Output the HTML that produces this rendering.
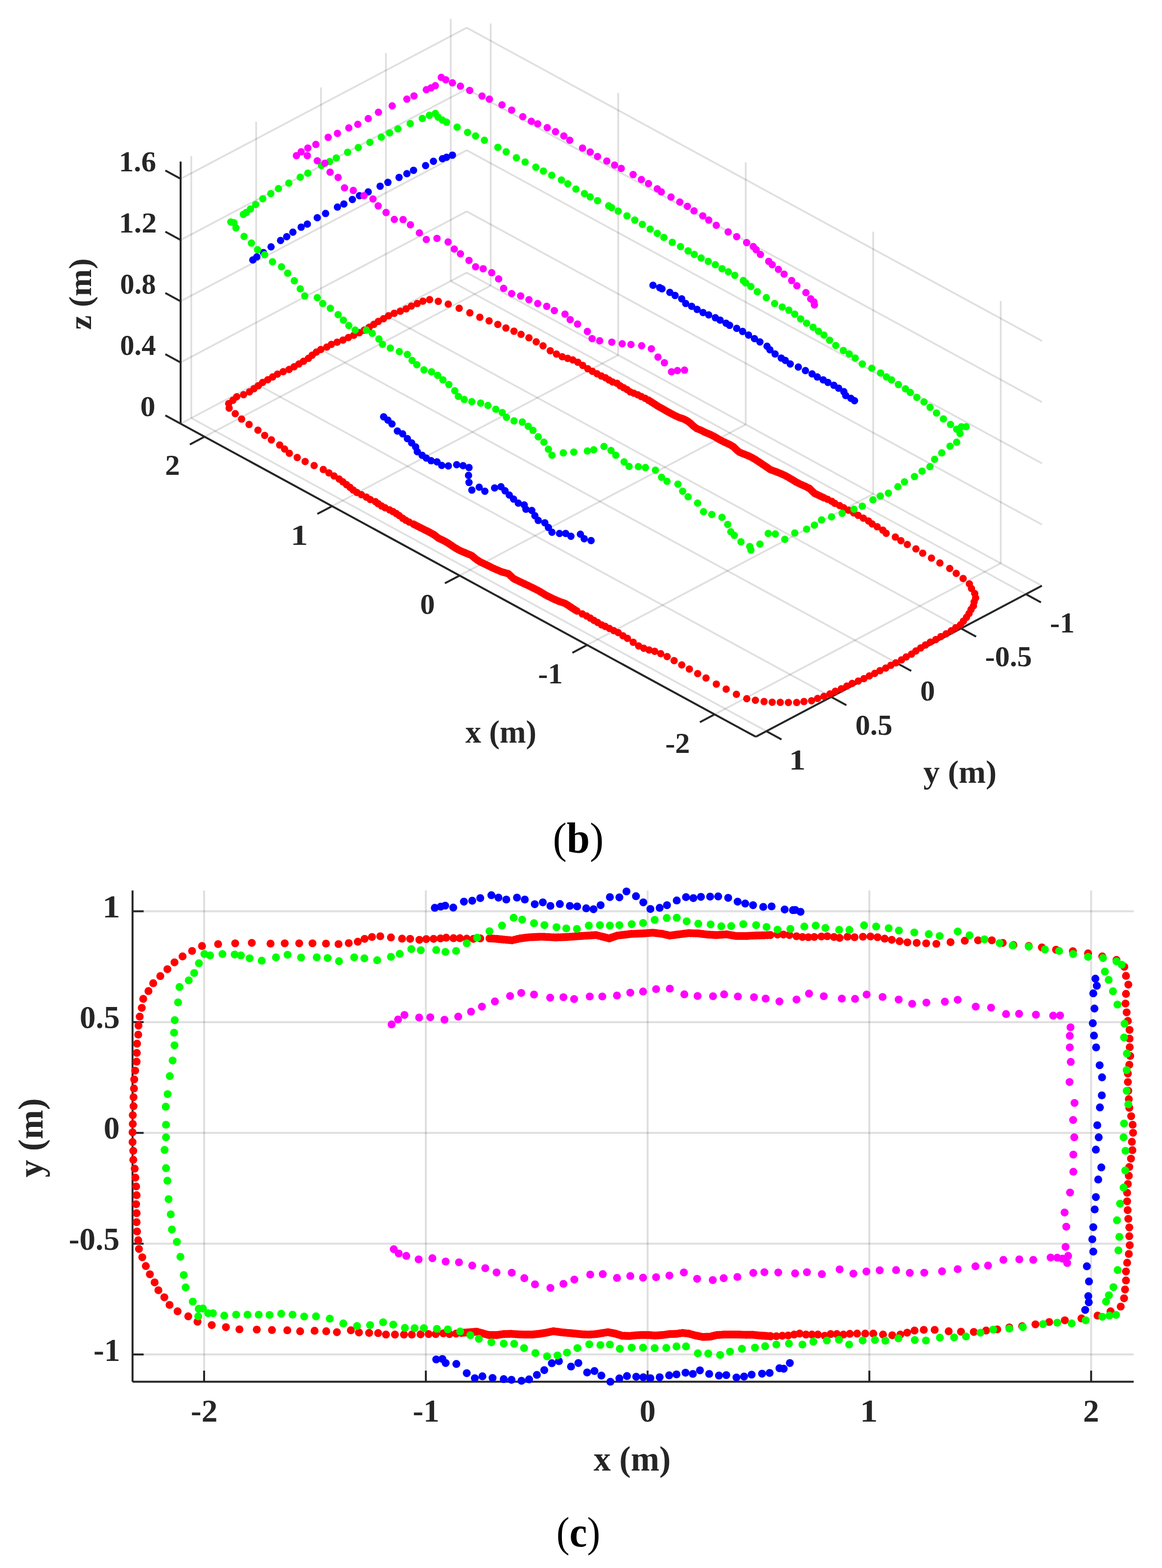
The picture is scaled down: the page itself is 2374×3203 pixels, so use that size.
<!DOCTYPE html>
<html><head><meta charset="utf-8"><title>figure</title>
<style>html,body{margin:0;padding:0;background:#fff;overflow:hidden;width:2374px;height:3203px;}svg{display:block;}</style>
</head><body>
<svg width="2374" height="3203" viewBox="0 0 2374 3203">
<rect width="2374" height="3203" fill="#ffffff"/>
<g stroke="#262626" stroke-width="3.6" fill="none" stroke-opacity="0.15">
<line x1="2044.5" y1="1150.7" x2="1460" y2="1459.3"/>
<line x1="1784" y1="1008.9" x2="1199.5" y2="1317.5"/>
<line x1="1523.5" y1="867.1" x2="939" y2="1175.7"/>
<line x1="1263" y1="725.3" x2="678.5" y2="1033.9"/>
<line x1="1002.5" y1="583.5" x2="418" y2="892.1"/>
<line x1="2096" y1="1213.8" x2="920.9" y2="574.1"/>
<line x1="1963.5" y1="1283.7" x2="788.4" y2="644.1"/>
<line x1="1830.9" y1="1353.7" x2="655.8" y2="714"/>
<line x1="1698.4" y1="1423.7" x2="523.3" y2="784"/>
<line x1="1565.9" y1="1493.7" x2="390.8" y2="854"/>
<line x1="920.9" y1="574.1" x2="920.9" y2="38.5"/>
<line x1="788.4" y1="644.1" x2="788.4" y2="108.5"/>
<line x1="655.8" y1="714" x2="655.8" y2="178.4"/>
<line x1="523.3" y1="784" x2="523.3" y2="248.4"/>
<line x1="390.8" y1="854" x2="390.8" y2="318.4"/>
<line x1="953.5" y1="556.9" x2="369" y2="865.5"/>
<line x1="953.5" y1="431.8" x2="369" y2="740.4"/>
<line x1="953.5" y1="306.8" x2="369" y2="615.4"/>
<line x1="953.5" y1="181.8" x2="369" y2="490.3"/>
<line x1="953.5" y1="56.7" x2="369" y2="365.3"/>
<line x1="2044.5" y1="1150.7" x2="2044.5" y2="615.1"/>
<line x1="1784" y1="1008.9" x2="1784" y2="473.3"/>
<line x1="1523.5" y1="867.1" x2="1523.5" y2="331.5"/>
<line x1="1263" y1="725.3" x2="1263" y2="189.7"/>
<line x1="1002.5" y1="583.5" x2="1002.5" y2="47.9"/>
<line x1="2128.6" y1="1196.5" x2="953.5" y2="556.9"/>
<line x1="2128.6" y1="1071.5" x2="953.5" y2="431.8"/>
<line x1="2128.6" y1="946.5" x2="953.5" y2="306.8"/>
<line x1="2128.6" y1="821.4" x2="953.5" y2="181.8"/>
<line x1="2128.6" y1="696.4" x2="953.5" y2="56.7"/>
</g>
<g stroke="#262626" stroke-width="4.0" fill="none" stroke-opacity="0.15">
<line x1="417" y1="2822.5" x2="417" y2="1819"/>
<line x1="870" y1="2822.5" x2="870" y2="1819"/>
<line x1="1323.1" y1="2822.5" x2="1323.1" y2="1819"/>
<line x1="1776.1" y1="2822.5" x2="1776.1" y2="1819"/>
<line x1="2229.2" y1="2822.5" x2="2229.2" y2="1819"/>
<line x1="271.1" y1="2766.8" x2="2316.2" y2="2766.8"/>
<line x1="271.1" y1="2540.5" x2="2316.2" y2="2540.5"/>
<line x1="271.1" y1="2314.2" x2="2316.2" y2="2314.2"/>
<line x1="271.1" y1="2087.9" x2="2316.2" y2="2087.9"/>
<line x1="271.1" y1="1861.5" x2="2316.2" y2="1861.5"/>
</g>
<g stroke="#262626" stroke-width="4.0" fill="none">
<line x1="369" y1="865.5" x2="369" y2="329.9"/>
<line x1="1544.2" y1="1505.1" x2="369" y2="865.5"/>
<line x1="2128.6" y1="1196.5" x2="1544.2" y2="1505.1"/>
<line x1="1460" y1="1459.3" x2="1429.9" y2="1475.2"/>
<line x1="1199.5" y1="1317.5" x2="1169.4" y2="1333.4"/>
<line x1="939" y1="1175.7" x2="908.9" y2="1191.6"/>
<line x1="678.5" y1="1033.9" x2="648.4" y2="1049.8"/>
<line x1="418" y1="892.1" x2="387.9" y2="908"/>
<line x1="2096" y1="1213.8" x2="2126.7" y2="1230.5"/>
<line x1="1963.5" y1="1283.7" x2="1994.2" y2="1300.5"/>
<line x1="1830.9" y1="1353.7" x2="1861.7" y2="1370.4"/>
<line x1="1698.4" y1="1423.7" x2="1729.2" y2="1440.4"/>
<line x1="1565.9" y1="1493.7" x2="1596.6" y2="1510.4"/>
<line x1="369" y1="865.5" x2="337.8" y2="848.5"/>
<line x1="369" y1="740.4" x2="337.8" y2="723.4"/>
<line x1="369" y1="615.4" x2="337.8" y2="598.4"/>
<line x1="369" y1="490.3" x2="337.8" y2="473.3"/>
<line x1="369" y1="365.3" x2="337.8" y2="348.3"/>
</g>
<g stroke="#262626" stroke-width="4.0" fill="none">
<line x1="270.8" y1="2822.5" x2="270.8" y2="1819"/>
<line x1="270.8" y1="2822.5" x2="2316.2" y2="2822.5"/>
<line x1="270.8" y1="2766.8" x2="293.5" y2="2766.8"/>
<line x1="270.8" y1="2540.5" x2="293.5" y2="2540.5"/>
<line x1="270.8" y1="2314.2" x2="293.5" y2="2314.2"/>
<line x1="270.8" y1="2087.9" x2="293.5" y2="2087.9"/>
<line x1="270.8" y1="1861.5" x2="293.5" y2="1861.5"/>
<line x1="417" y1="2822.5" x2="417" y2="2799.8"/>
<line x1="870" y1="2822.5" x2="870" y2="2799.8"/>
<line x1="1323.1" y1="2822.5" x2="1323.1" y2="2799.8"/>
<line x1="1776.1" y1="2822.5" x2="1776.1" y2="2799.8"/>
<line x1="2229.2" y1="2822.5" x2="2229.2" y2="2799.8"/>
</g>
<g fill="#ff0000">
<circle cx="1830.1" cy="1354" r="7.5"/>
<circle cx="1819.9" cy="1359.1" r="7.5"/>
<circle cx="1809.5" cy="1364.7" r="7.5"/>
<circle cx="1797.8" cy="1369.9" r="7.5"/>
<circle cx="1787.1" cy="1375.6" r="7.5"/>
<circle cx="1776" cy="1380.8" r="7.5"/>
<circle cx="1765" cy="1386.3" r="7.5"/>
<circle cx="1753.4" cy="1391.3" r="7.5"/>
<circle cx="1740.9" cy="1396.1" r="7.5"/>
<circle cx="1730.1" cy="1401.5" r="7.5"/>
<circle cx="1718.8" cy="1407.1" r="7.5"/>
<circle cx="1706.6" cy="1412.1" r="7.5"/>
<circle cx="1695.6" cy="1417.6" r="7.5"/>
<circle cx="1683.4" cy="1422.5" r="7.5"/>
<circle cx="1670.4" cy="1426.7" r="7.5"/>
<circle cx="1658" cy="1431.5" r="7.5"/>
<circle cx="1642.5" cy="1433.1" r="7.5"/>
<circle cx="1627.6" cy="1435" r="7.5"/>
<circle cx="1610.7" cy="1435" r="7.5"/>
<circle cx="1594.1" cy="1434.8" r="7.5"/>
<circle cx="1577.6" cy="1434.5" r="7.5"/>
<circle cx="1561" cy="1433.1" r="7.5"/>
<circle cx="1543.3" cy="1430.5" r="7.5"/>
<circle cx="1525.7" cy="1427.3" r="7.5"/>
<circle cx="1504.5" cy="1418.2" r="7.5"/>
<circle cx="1483.6" cy="1407.7" r="7.5"/>
<circle cx="1463.5" cy="1397.4" r="7.5"/>
<circle cx="1442.4" cy="1385" r="7.5"/>
<circle cx="1425.4" cy="1376" r="7.5"/>
<circle cx="1408.4" cy="1366.8" r="7.5"/>
<circle cx="1392.8" cy="1358.3" r="7.5"/>
<circle cx="1377.2" cy="1349.5" r="7.5"/>
<circle cx="1363" cy="1341.2" r="7.5"/>
<circle cx="1349.9" cy="1335.3" r="7.5"/>
<circle cx="1337.6" cy="1330.4" r="7.5"/>
<circle cx="1326.2" cy="1327.8" r="7.5"/>
<circle cx="1315.3" cy="1324.3" r="7.5"/>
<circle cx="1304.7" cy="1319.5" r="7.5"/>
<circle cx="1293.6" cy="1311.9" r="7.5"/>
<circle cx="1281.9" cy="1304" r="7.5"/>
<circle cx="1272.7" cy="1298.7" r="7.5"/>
<circle cx="1263" cy="1292.2" r="7.5"/>
<circle cx="1254.1" cy="1288.3" r="7.5"/>
<circle cx="1245.1" cy="1283.7" r="7.5"/>
<circle cx="1236.5" cy="1279.6" r="7.5"/>
<circle cx="1229" cy="1276.4" r="7.5"/>
<circle cx="1220.9" cy="1271.4" r="7.5"/>
<circle cx="1213.4" cy="1267.3" r="7.5"/>
<circle cx="1205.9" cy="1262.6" r="7.5"/>
<circle cx="1198.4" cy="1258.2" r="7.5"/>
<circle cx="1189.7" cy="1254.1" r="7.5"/>
<circle cx="844.9" cy="1070.7" r="7.5"/>
<circle cx="836" cy="1066.5" r="7.5"/>
<circle cx="829" cy="1062.7" r="7.5"/>
<circle cx="822.6" cy="1058.6" r="7.5"/>
<circle cx="815.7" cy="1053.3" r="7.5"/>
<circle cx="809.6" cy="1049.1" r="7.5"/>
<circle cx="802.9" cy="1045.1" r="7.5"/>
<circle cx="795.7" cy="1041.5" r="7.5"/>
<circle cx="786.7" cy="1037.2" r="7.5"/>
<circle cx="779.5" cy="1033.6" r="7.5"/>
<circle cx="772.6" cy="1028.9" r="7.5"/>
<circle cx="767" cy="1024.7" r="7.5"/>
<circle cx="756.4" cy="1020.4" r="7.5"/>
<circle cx="748.6" cy="1015.6" r="7.5"/>
<circle cx="738.3" cy="1010.6" r="7.5"/>
<circle cx="729.1" cy="1005.9" r="7.5"/>
<circle cx="721.6" cy="1000.9" r="7.5"/>
<circle cx="715" cy="995.4" r="7.5"/>
<circle cx="708" cy="990.1" r="7.5"/>
<circle cx="700.5" cy="984.2" r="7.5"/>
<circle cx="692.8" cy="978.5" r="7.5"/>
<circle cx="682.5" cy="972.3" r="7.5"/>
<circle cx="671.9" cy="965.9" r="7.5"/>
<circle cx="660.5" cy="959.1" r="7.5"/>
<circle cx="641.8" cy="951" r="7.5"/>
<circle cx="623.4" cy="942.8" r="7.5"/>
<circle cx="607.2" cy="934.6" r="7.5"/>
<circle cx="591.1" cy="925.9" r="7.5"/>
<circle cx="581.4" cy="917.2" r="7.5"/>
<circle cx="571.4" cy="909.1" r="7.5"/>
<circle cx="554.4" cy="898.6" r="7.5"/>
<circle cx="540.8" cy="889.4" r="7.5"/>
<circle cx="527" cy="878.8" r="7.5"/>
<circle cx="508.9" cy="867.1" r="7.5"/>
<circle cx="493.6" cy="856.1" r="7.5"/>
<circle cx="480.6" cy="845" r="7.5"/>
<circle cx="468.2" cy="833.7" r="7.5"/>
<circle cx="467.2" cy="824.4" r="7.5"/>
<circle cx="476" cy="817.6" r="7.5"/>
<circle cx="483.7" cy="810.5" r="7.5"/>
<circle cx="497.6" cy="806.2" r="7.5"/>
<circle cx="509.7" cy="800.4" r="7.5"/>
<circle cx="518.8" cy="794.1" r="7.5"/>
<circle cx="527.7" cy="787.9" r="7.5"/>
<circle cx="536.5" cy="781.2" r="7.5"/>
<circle cx="547" cy="775.7" r="7.5"/>
<circle cx="556.9" cy="770.1" r="7.5"/>
<circle cx="566.8" cy="764.3" r="7.5"/>
<circle cx="578.5" cy="759.3" r="7.5"/>
<circle cx="590.6" cy="754.7" r="7.5"/>
<circle cx="600.8" cy="749.3" r="7.5"/>
<circle cx="610.8" cy="743.5" r="7.5"/>
<circle cx="620.1" cy="737.9" r="7.5"/>
<circle cx="630.1" cy="732.1" r="7.5"/>
<circle cx="637.8" cy="725.6" r="7.5"/>
<circle cx="646.3" cy="719.3" r="7.5"/>
<circle cx="655.4" cy="713.9" r="7.5"/>
<circle cx="667.6" cy="709" r="7.5"/>
<circle cx="677" cy="703.4" r="7.5"/>
<circle cx="688.8" cy="699" r="7.5"/>
<circle cx="700.7" cy="694.8" r="7.5"/>
<circle cx="711.8" cy="689.5" r="7.5"/>
<circle cx="722.8" cy="684.9" r="7.5"/>
<circle cx="734.1" cy="679.8" r="7.5"/>
<circle cx="744.3" cy="674.4" r="7.5"/>
<circle cx="754.3" cy="668.6" r="7.5"/>
<circle cx="763.9" cy="662.6" r="7.5"/>
<circle cx="773" cy="656.6" r="7.5"/>
<circle cx="783.5" cy="651.1" r="7.5"/>
<circle cx="793.7" cy="645.1" r="7.5"/>
<circle cx="805.3" cy="640.1" r="7.5"/>
<circle cx="817.8" cy="635.7" r="7.5"/>
<circle cx="829.7" cy="630.9" r="7.5"/>
<circle cx="840.4" cy="625.2" r="7.5"/>
<circle cx="852.3" cy="620.1" r="7.5"/>
<circle cx="863.9" cy="615.2" r="7.5"/>
<circle cx="877.7" cy="612.1" r="7.5"/>
<circle cx="895.4" cy="615.6" r="7.5"/>
<circle cx="915.8" cy="621.2" r="7.5"/>
<circle cx="938.1" cy="629.7" r="7.5"/>
<circle cx="959.9" cy="639.1" r="7.5"/>
<circle cx="980.3" cy="648.1" r="7.5"/>
<circle cx="999.3" cy="655.4" r="7.5"/>
<circle cx="1017.1" cy="662.7" r="7.5"/>
<circle cx="1033.6" cy="670.1" r="7.5"/>
<circle cx="1050" cy="676.6" r="7.5"/>
<circle cx="1064.5" cy="683" r="7.5"/>
<circle cx="1080.7" cy="690" r="7.5"/>
<circle cx="1095.5" cy="698.3" r="7.5"/>
<circle cx="1109.4" cy="706.5" r="7.5"/>
<circle cx="1124.1" cy="716.4" r="7.5"/>
<circle cx="1136.9" cy="723.3" r="7.5"/>
<circle cx="1148.6" cy="728.8" r="7.5"/>
<circle cx="1159.8" cy="732.1" r="7.5"/>
<circle cx="1170.2" cy="735.3" r="7.5"/>
<circle cx="1180.5" cy="740" r="7.5"/>
<circle cx="1190.5" cy="746.4" r="7.5"/>
<circle cx="1200.8" cy="753.2" r="7.5"/>
<circle cx="1210.2" cy="758.4" r="7.5"/>
<circle cx="1219.7" cy="763.5" r="7.5"/>
<circle cx="1228.6" cy="768.1" r="7.5"/>
<circle cx="1237" cy="771.7" r="7.5"/>
<circle cx="1244.2" cy="776.3" r="7.5"/>
<circle cx="1251.5" cy="780.2" r="7.5"/>
<circle cx="1260.4" cy="782.9" r="7.5"/>
<circle cx="1267.1" cy="788.1" r="7.5"/>
<circle cx="1274" cy="791.9" r="7.5"/>
<circle cx="1281" cy="795.7" r="7.5"/>
<circle cx="1287.4" cy="800.4" r="7.5"/>
<circle cx="1294.9" cy="803.2" r="7.5"/>
<circle cx="1303" cy="806.4" r="7.5"/>
<circle cx="1310.2" cy="810.1" r="7.5"/>
<circle cx="1317.8" cy="813.6" r="7.5"/>
<circle cx="1325" cy="817.2" r="7.5"/>
<circle cx="1841.8" cy="1347.9" r="7.5"/>
<circle cx="1851.5" cy="1341.9" r="7.5"/>
<circle cx="1862.2" cy="1336.2" r="7.5"/>
<circle cx="1871.1" cy="1329.7" r="7.5"/>
<circle cx="1881" cy="1323.6" r="7.5"/>
<circle cx="1890.7" cy="1317.6" r="7.5"/>
<circle cx="1900.6" cy="1311.7" r="7.5"/>
<circle cx="1911.9" cy="1306.4" r="7.5"/>
<circle cx="1922.2" cy="1300.4" r="7.5"/>
<circle cx="1932.9" cy="1294.7" r="7.5"/>
<circle cx="1943.4" cy="1288.5" r="7.5"/>
<circle cx="1952.5" cy="1282.2" r="7.5"/>
<circle cx="1962.2" cy="1276.2" r="7.5"/>
<circle cx="1968.2" cy="1268.9" r="7.5"/>
<circle cx="1974.5" cy="1261.1" r="7.5"/>
<circle cx="1979.7" cy="1253.3" r="7.5"/>
<circle cx="1983.8" cy="1245.1" r="7.5"/>
<circle cx="1988.7" cy="1237.8" r="7.5"/>
<circle cx="1990.2" cy="1229.5" r="7.5"/>
<circle cx="1993.2" cy="1221.4" r="7.5"/>
<circle cx="1991.4" cy="1212.2" r="7.5"/>
<circle cx="1984.8" cy="1202.2" r="7.5"/>
<circle cx="1980.5" cy="1192.8" r="7.5"/>
<circle cx="1967.7" cy="1181.7" r="7.5"/>
<circle cx="1953.6" cy="1171.2" r="7.5"/>
<circle cx="1940.3" cy="1161.2" r="7.5"/>
<circle cx="1920.2" cy="1150" r="7.5"/>
<circle cx="1903" cy="1140" r="7.5"/>
<circle cx="1885.1" cy="1130" r="7.5"/>
<circle cx="1871.2" cy="1121.2" r="7.5"/>
<circle cx="1853.7" cy="1112.3" r="7.5"/>
<circle cx="1840.6" cy="1104.5" r="7.5"/>
<circle cx="1829.2" cy="1097.1" r="7.5"/>
<circle cx="1810.5" cy="1089.4" r="7.5"/>
<circle cx="1803.6" cy="1082.9" r="7.5"/>
<circle cx="1792.2" cy="1076.1" r="7.5"/>
<circle cx="1781.9" cy="1070.2" r="7.5"/>
<circle cx="1774.4" cy="1064.3" r="7.5"/>
<circle cx="1763.8" cy="1058.5" r="7.5"/>
<circle cx="1753.2" cy="1052.7" r="7.5"/>
<circle cx="1744.1" cy="1047.7" r="7.5"/>
<circle cx="1733.5" cy="1042.3" r="7.5"/>
<circle cx="1723.7" cy="1037.3" r="7.5"/>
<circle cx="1715.4" cy="1032.7" r="7.5"/>
<circle cx="1705.6" cy="1028.3" r="7.5"/>
<circle cx="1699.2" cy="1023.9" r="7.5"/>
<circle cx="1690.9" cy="1020" r="7.5"/>
<circle cx="1178.9" cy="1248.3" r="7.5"/>
<circle cx="1176.3" cy="1246.7" r="7.5"/>
<circle cx="1173.7" cy="1245" r="7.5"/>
<circle cx="1171.1" cy="1243.4" r="7.5"/>
<circle cx="1168.6" cy="1241.8" r="7.5"/>
<circle cx="1166.1" cy="1240.1" r="7.5"/>
<circle cx="1163.6" cy="1238.4" r="7.5"/>
<circle cx="1160.7" cy="1236.5" r="7.5"/>
<circle cx="1157.7" cy="1234.6" r="7.5"/>
<circle cx="1154.7" cy="1232.7" r="7.5"/>
<circle cx="1150.7" cy="1231.3" r="7.5"/>
<circle cx="1146.7" cy="1229.9" r="7.5"/>
<circle cx="1142.7" cy="1228.6" r="7.5"/>
<circle cx="1139.6" cy="1227.2" r="7.5"/>
<circle cx="1136.5" cy="1225.9" r="7.5"/>
<circle cx="1133.3" cy="1224.6" r="7.5"/>
<circle cx="1130.2" cy="1223.3" r="7.5"/>
<circle cx="1127.3" cy="1221.8" r="7.5"/>
<circle cx="1124.4" cy="1220.3" r="7.5"/>
<circle cx="1121.5" cy="1218.9" r="7.5"/>
<circle cx="1118.6" cy="1217.4" r="7.5"/>
<circle cx="1115.7" cy="1216" r="7.5"/>
<circle cx="1113" cy="1214.4" r="7.5"/>
<circle cx="1110.4" cy="1212.8" r="7.5"/>
<circle cx="1107.8" cy="1211.2" r="7.5"/>
<circle cx="1105.1" cy="1209.6" r="7.5"/>
<circle cx="1102.5" cy="1208" r="7.5"/>
<circle cx="1099.8" cy="1206.4" r="7.5"/>
<circle cx="1096.9" cy="1205" r="7.5"/>
<circle cx="1094" cy="1203.5" r="7.5"/>
<circle cx="1091.1" cy="1202.1" r="7.5"/>
<circle cx="1088.2" cy="1200.6" r="7.5"/>
<circle cx="1085.3" cy="1199.2" r="7.5"/>
<circle cx="1082.4" cy="1197.7" r="7.5"/>
<circle cx="1079.4" cy="1196.3" r="7.5"/>
<circle cx="1076.4" cy="1194.9" r="7.5"/>
<circle cx="1073.4" cy="1193.5" r="7.5"/>
<circle cx="1070.4" cy="1192.1" r="7.5"/>
<circle cx="1067.4" cy="1190.7" r="7.5"/>
<circle cx="1064.4" cy="1189.3" r="7.5"/>
<circle cx="1061.5" cy="1187.9" r="7.5"/>
<circle cx="1058.5" cy="1186.4" r="7.5"/>
<circle cx="1055.6" cy="1185" r="7.5"/>
<circle cx="1052.6" cy="1183.6" r="7.5"/>
<circle cx="1049.7" cy="1182.2" r="7.5"/>
<circle cx="1047.4" cy="1180.1" r="7.5"/>
<circle cx="1045.1" cy="1178" r="7.5"/>
<circle cx="1042.8" cy="1175.9" r="7.5"/>
<circle cx="1040.6" cy="1173.8" r="7.5"/>
<circle cx="1038.3" cy="1171.7" r="7.5"/>
<circle cx="1035" cy="1170.9" r="7.5"/>
<circle cx="1031.7" cy="1170" r="7.5"/>
<circle cx="1028.4" cy="1169.1" r="7.5"/>
<circle cx="1025.2" cy="1168.2" r="7.5"/>
<circle cx="1022" cy="1166.9" r="7.5"/>
<circle cx="1018.9" cy="1165.5" r="7.5"/>
<circle cx="1015.8" cy="1164.2" r="7.5"/>
<circle cx="1012.7" cy="1162.9" r="7.5"/>
<circle cx="1009.6" cy="1161.5" r="7.5"/>
<circle cx="1006.5" cy="1160.2" r="7.5"/>
<circle cx="1003.6" cy="1158.7" r="7.5"/>
<circle cx="1000.7" cy="1157.3" r="7.5"/>
<circle cx="997.8" cy="1155.8" r="7.5"/>
<circle cx="994.9" cy="1154.4" r="7.5"/>
<circle cx="992" cy="1152.9" r="7.5"/>
<circle cx="989" cy="1151.5" r="7.5"/>
<circle cx="986" cy="1150.1" r="7.5"/>
<circle cx="983" cy="1148.7" r="7.5"/>
<circle cx="980" cy="1147.3" r="7.5"/>
<circle cx="977.6" cy="1145.6" r="7.5"/>
<circle cx="975.1" cy="1143.9" r="7.5"/>
<circle cx="972.7" cy="1142.2" r="7.5"/>
<circle cx="970.3" cy="1140.5" r="7.5"/>
<circle cx="968.2" cy="1138.6" r="7.5"/>
<circle cx="966" cy="1136.7" r="7.5"/>
<circle cx="963.9" cy="1134.9" r="7.5"/>
<circle cx="960.8" cy="1133.5" r="7.5"/>
<circle cx="957.6" cy="1132.2" r="7.5"/>
<circle cx="954.5" cy="1130.9" r="7.5"/>
<circle cx="951.3" cy="1129.6" r="7.5"/>
<circle cx="948.2" cy="1128.2" r="7.5"/>
<circle cx="945.1" cy="1126.9" r="7.5"/>
<circle cx="941.9" cy="1125.6" r="7.5"/>
<circle cx="938.8" cy="1124.2" r="7.5"/>
<circle cx="936.1" cy="1122.7" r="7.5"/>
<circle cx="933.4" cy="1121.1" r="7.5"/>
<circle cx="930.7" cy="1119.6" r="7.5"/>
<circle cx="927.9" cy="1118" r="7.5"/>
<circle cx="925.5" cy="1116.3" r="7.5"/>
<circle cx="923.1" cy="1114.6" r="7.5"/>
<circle cx="920.6" cy="1112.9" r="7.5"/>
<circle cx="918.2" cy="1111.2" r="7.5"/>
<circle cx="915.6" cy="1109.6" r="7.5"/>
<circle cx="912.9" cy="1108" r="7.5"/>
<circle cx="910.3" cy="1106.5" r="7.5"/>
<circle cx="907.6" cy="1104.9" r="7.5"/>
<circle cx="904.7" cy="1103.5" r="7.5"/>
<circle cx="901.7" cy="1102.1" r="7.5"/>
<circle cx="898.7" cy="1100.7" r="7.5"/>
<circle cx="895.7" cy="1099.2" r="7.5"/>
<circle cx="893.4" cy="1097.5" r="7.5"/>
<circle cx="891.1" cy="1095.7" r="7.5"/>
<circle cx="888.8" cy="1093.9" r="7.5"/>
<circle cx="886.5" cy="1092.1" r="7.5"/>
<circle cx="883.7" cy="1090.6" r="7.5"/>
<circle cx="880.9" cy="1089.1" r="7.5"/>
<circle cx="878.2" cy="1087.6" r="7.5"/>
<circle cx="875.4" cy="1086.1" r="7.5"/>
<circle cx="872.4" cy="1084.6" r="7.5"/>
<circle cx="869.5" cy="1083.2" r="7.5"/>
<circle cx="866.6" cy="1081.8" r="7.5"/>
<circle cx="863.7" cy="1080.3" r="7.5"/>
<circle cx="860.8" cy="1078.8" r="7.5"/>
<circle cx="858" cy="1077.4" r="7.5"/>
<circle cx="855.1" cy="1075.9" r="7.5"/>
<circle cx="852.2" cy="1074.4" r="7.5"/>
<circle cx="848.6" cy="1072.6" r="7.5"/>
<circle cx="845" cy="1070.8" r="7.5"/>
<circle cx="1653.4" cy="997.8" r="7.5"/>
<circle cx="1650.6" cy="996.2" r="7.5"/>
<circle cx="1647.8" cy="994.7" r="7.5"/>
<circle cx="1645" cy="993.2" r="7.5"/>
<circle cx="1641.8" cy="991.9" r="7.5"/>
<circle cx="1638.7" cy="990.6" r="7.5"/>
<circle cx="1635.5" cy="989.3" r="7.5"/>
<circle cx="1632.6" cy="987.8" r="7.5"/>
<circle cx="1629.8" cy="986.3" r="7.5"/>
<circle cx="1626.9" cy="984.9" r="7.5"/>
<circle cx="1624.3" cy="983.3" r="7.5"/>
<circle cx="1621.7" cy="981.6" r="7.5"/>
<circle cx="1619.1" cy="980" r="7.5"/>
<circle cx="1616.4" cy="978.5" r="7.5"/>
<circle cx="1613.7" cy="976.9" r="7.5"/>
<circle cx="1611" cy="975.3" r="7.5"/>
<circle cx="1608.2" cy="973.8" r="7.5"/>
<circle cx="1605.5" cy="972.3" r="7.5"/>
<circle cx="1602.7" cy="970.8" r="7.5"/>
<circle cx="1599.6" cy="969.4" r="7.5"/>
<circle cx="1596.5" cy="968" r="7.5"/>
<circle cx="1593.5" cy="966.7" r="7.5"/>
<circle cx="1590.2" cy="965.4" r="7.5"/>
<circle cx="1587" cy="964.1" r="7.5"/>
<circle cx="1583.7" cy="962.9" r="7.5"/>
<circle cx="1580.4" cy="961.7" r="7.5"/>
<circle cx="1577" cy="960.4" r="7.5"/>
<circle cx="1573.6" cy="959.2" r="7.5"/>
<circle cx="1571.2" cy="957.5" r="7.5"/>
<circle cx="1568.8" cy="955.8" r="7.5"/>
<circle cx="1566.4" cy="954.1" r="7.5"/>
<circle cx="1563.9" cy="952.4" r="7.5"/>
<circle cx="1561.4" cy="950.8" r="7.5"/>
<circle cx="1558.9" cy="949.1" r="7.5"/>
<circle cx="1556.4" cy="947.4" r="7.5"/>
<circle cx="1553.9" cy="945.8" r="7.5"/>
<circle cx="1551.4" cy="944.1" r="7.5"/>
<circle cx="1548.9" cy="942.4" r="7.5"/>
<circle cx="1546.4" cy="940.8" r="7.5"/>
<circle cx="1543.9" cy="939.1" r="7.5"/>
<circle cx="1541.2" cy="937.5" r="7.5"/>
<circle cx="1538.5" cy="936" r="7.5"/>
<circle cx="1535.9" cy="934.4" r="7.5"/>
<circle cx="1532.9" cy="933" r="7.5"/>
<circle cx="1529.9" cy="931.6" r="7.5"/>
<circle cx="1526.9" cy="930.2" r="7.5"/>
<circle cx="1523.7" cy="928.9" r="7.5"/>
<circle cx="1520.4" cy="927.6" r="7.5"/>
<circle cx="1517.2" cy="926.4" r="7.5"/>
<circle cx="1513.9" cy="925.1" r="7.5"/>
<circle cx="1510.7" cy="923.8" r="7.5"/>
<circle cx="1508.5" cy="922" r="7.5"/>
<circle cx="1506.3" cy="920.1" r="7.5"/>
<circle cx="1504.1" cy="918.3" r="7.5"/>
<circle cx="1502.2" cy="916.4" r="7.5"/>
<circle cx="1500.2" cy="914.4" r="7.5"/>
<circle cx="1498.3" cy="912.4" r="7.5"/>
<circle cx="1495.6" cy="910.9" r="7.5"/>
<circle cx="1492.9" cy="909.3" r="7.5"/>
<circle cx="1490.2" cy="907.7" r="7.5"/>
<circle cx="1487.1" cy="906.4" r="7.5"/>
<circle cx="1484.1" cy="905" r="7.5"/>
<circle cx="1481" cy="903.6" r="7.5"/>
<circle cx="1478.1" cy="902.2" r="7.5"/>
<circle cx="1475.2" cy="900.8" r="7.5"/>
<circle cx="1472.4" cy="899.2" r="7.5"/>
<circle cx="1469.6" cy="897.7" r="7.5"/>
<circle cx="1466.8" cy="896.2" r="7.5"/>
<circle cx="1464.2" cy="894.6" r="7.5"/>
<circle cx="1461.6" cy="893" r="7.5"/>
<circle cx="1459" cy="891.4" r="7.5"/>
<circle cx="1456" cy="889.9" r="7.5"/>
<circle cx="1453.1" cy="888.5" r="7.5"/>
<circle cx="1450.1" cy="887.1" r="7.5"/>
<circle cx="1446.9" cy="885.8" r="7.5"/>
<circle cx="1443.8" cy="884.5" r="7.5"/>
<circle cx="1440.6" cy="883.2" r="7.5"/>
<circle cx="1437.7" cy="881.7" r="7.5"/>
<circle cx="1434.9" cy="880.2" r="7.5"/>
<circle cx="1432" cy="878.8" r="7.5"/>
<circle cx="1427.9" cy="877.2" r="7.5"/>
<circle cx="1423.9" cy="875.6" r="7.5"/>
<circle cx="1420.8" cy="873.5" r="7.5"/>
<circle cx="1417.8" cy="871.3" r="7.5"/>
<circle cx="1415.7" cy="869.4" r="7.5"/>
<circle cx="1413.7" cy="867.5" r="7.5"/>
<circle cx="1411.7" cy="865.6" r="7.5"/>
<circle cx="1409.5" cy="863.8" r="7.5"/>
<circle cx="1407.2" cy="862" r="7.5"/>
<circle cx="1405" cy="860.2" r="7.5"/>
<circle cx="1402.2" cy="858.7" r="7.5"/>
<circle cx="1399.3" cy="857.2" r="7.5"/>
<circle cx="1396.4" cy="855.8" r="7.5"/>
<circle cx="1392.9" cy="854.6" r="7.5"/>
<circle cx="1389.5" cy="853.4" r="7.5"/>
<circle cx="1386.1" cy="852.3" r="7.5"/>
<circle cx="1383.1" cy="850.8" r="7.5"/>
<circle cx="1380.1" cy="849.4" r="7.5"/>
<circle cx="1377.1" cy="848" r="7.5"/>
<circle cx="1374.4" cy="846.5" r="7.5"/>
<circle cx="1371.6" cy="845" r="7.5"/>
<circle cx="1368.8" cy="843.5" r="7.5"/>
<circle cx="1366" cy="841.9" r="7.5"/>
<circle cx="1363.2" cy="840.4" r="7.5"/>
<circle cx="1360.4" cy="838.9" r="7.5"/>
<circle cx="1357.7" cy="837.3" r="7.5"/>
<circle cx="1355" cy="835.8" r="7.5"/>
<circle cx="1352.4" cy="834.2" r="7.5"/>
<circle cx="1349.6" cy="832.7" r="7.5"/>
<circle cx="1346.8" cy="831.2" r="7.5"/>
<circle cx="1344" cy="829.7" r="7.5"/>
<circle cx="1341.5" cy="828" r="7.5"/>
<circle cx="1339" cy="826.3" r="7.5"/>
<circle cx="1336.5" cy="824.7" r="7.5"/>
<circle cx="1333.9" cy="823.1" r="7.5"/>
<circle cx="1331.3" cy="821.4" r="7.5"/>
<circle cx="1328.7" cy="819.8" r="7.5"/>
<circle cx="1324.5" cy="817.6" r="7.5"/>
<circle cx="1683.9" cy="1017.1" r="7.5"/>
<circle cx="1681" cy="1015.8" r="7.5"/>
<circle cx="1678.2" cy="1014.5" r="7.5"/>
<circle cx="1675.3" cy="1013.1" r="7.5"/>
<circle cx="1672.4" cy="1011.8" r="7.5"/>
<circle cx="1669.8" cy="1010.5" r="7.5"/>
<circle cx="1667.1" cy="1009.3" r="7.5"/>
<circle cx="1664.4" cy="1008" r="7.5"/>
<circle cx="1662.7" cy="1006.4" r="7.5"/>
<circle cx="1661" cy="1004.8" r="7.5"/>
<circle cx="1659.4" cy="1003.2" r="7.5"/>
<circle cx="1657.4" cy="1001.3" r="7.5"/>
<circle cx="1655.5" cy="999.4" r="7.5"/>
<circle cx="1653.6" cy="997.6" r="7.5"/>
</g>
<g fill="#0000ff">
<circle cx="516.5" cy="531" r="7.5"/>
<circle cx="524.7" cy="524.7" r="7.5"/>
<circle cx="538.3" cy="516" r="7.5"/>
<circle cx="553.8" cy="504.3" r="7.5"/>
<circle cx="573.2" cy="491.3" r="7.5"/>
<circle cx="585.8" cy="483.5" r="7.5"/>
<circle cx="598.4" cy="474.3" r="7.5"/>
<circle cx="615.3" cy="464.1" r="7.5"/>
<circle cx="627.9" cy="457.8" r="7.5"/>
<circle cx="648.2" cy="444.8" r="7.5"/>
<circle cx="665.2" cy="436.1" r="7.5"/>
<circle cx="689.4" cy="423" r="7.5"/>
<circle cx="702.5" cy="416.7" r="7.5"/>
<circle cx="719.9" cy="407.5" r="7.5"/>
<circle cx="734.4" cy="399.7" r="7.5"/>
<circle cx="752.3" cy="392" r="7.5"/>
<circle cx="776.6" cy="380.4" r="7.5"/>
<circle cx="792.5" cy="372.6" r="7.5"/>
<circle cx="815.3" cy="362.4" r="7.5"/>
<circle cx="831.3" cy="354.7" r="7.5"/>
<circle cx="844.8" cy="347.9" r="7.5"/>
<circle cx="869.5" cy="338.2" r="7.5"/>
<circle cx="885.5" cy="329.5" r="7.5"/>
<circle cx="903.9" cy="324.2" r="7.5"/>
<circle cx="912.2" cy="321.3" r="7.5"/>
<circle cx="924.3" cy="316.9" r="7.5"/>
<circle cx="1334.1" cy="582.8" r="7.5"/>
<circle cx="1347.7" cy="587.6" r="7.5"/>
<circle cx="1352.5" cy="590" r="7.5"/>
<circle cx="1368.5" cy="597.3" r="7.5"/>
<circle cx="1379.2" cy="603.6" r="7.5"/>
<circle cx="1392.7" cy="610.4" r="7.5"/>
<circle cx="1401" cy="620" r="7.5"/>
<circle cx="1413.1" cy="625.8" r="7.5"/>
<circle cx="1424.2" cy="632.1" r="7.5"/>
<circle cx="1436.3" cy="638.4" r="7.5"/>
<circle cx="1447.9" cy="643.2" r="7.5"/>
<circle cx="1461.5" cy="649.1" r="7.5"/>
<circle cx="1471.2" cy="653.9" r="7.5"/>
<circle cx="1483.3" cy="660.2" r="7.5"/>
<circle cx="1490.6" cy="664.6" r="7.5"/>
<circle cx="1505.1" cy="670.8" r="7.5"/>
<circle cx="1517.2" cy="677.1" r="7.5"/>
<circle cx="1529.3" cy="684.4" r="7.5"/>
<circle cx="1541.4" cy="691.7" r="7.5"/>
<circle cx="1552.5" cy="698.5" r="7.5"/>
<circle cx="1567.1" cy="707.2" r="7.5"/>
<circle cx="1572.9" cy="714.4" r="7.5"/>
<circle cx="1583.5" cy="723.1" r="7.5"/>
<circle cx="1596.1" cy="731.4" r="7.5"/>
<circle cx="1604.4" cy="736.2" r="7.5"/>
<circle cx="1614.5" cy="743.5" r="7.5"/>
<circle cx="1631" cy="749.8" r="7.5"/>
<circle cx="1645.5" cy="757" r="7.5"/>
<circle cx="1659.1" cy="763.8" r="7.5"/>
<circle cx="1669.7" cy="770.1" r="7.5"/>
<circle cx="1681.8" cy="775.9" r="7.5"/>
<circle cx="1691.5" cy="781.3" r="7.5"/>
<circle cx="1703.6" cy="787.1" r="7.5"/>
<circle cx="1713.3" cy="792.9" r="7.5"/>
<circle cx="1724" cy="800.1" r="7.5"/>
<circle cx="1727.8" cy="807.9" r="7.5"/>
<circle cx="1738.5" cy="813.7" r="7.5"/>
<circle cx="1745.8" cy="818.5" r="7.5"/>
<circle cx="783.8" cy="851.5" r="7.5"/>
<circle cx="792.5" cy="858.3" r="7.5"/>
<circle cx="800.8" cy="866" r="7.5"/>
<circle cx="811.9" cy="880.5" r="7.5"/>
<circle cx="822.6" cy="886.3" r="7.5"/>
<circle cx="832.3" cy="896" r="7.5"/>
<circle cx="841" cy="904.7" r="7.5"/>
<circle cx="849.2" cy="913" r="7.5"/>
<circle cx="852.6" cy="922.7" r="7.5"/>
<circle cx="862.3" cy="929.9" r="7.5"/>
<circle cx="871" cy="935.7" r="7.5"/>
<circle cx="880.7" cy="941.1" r="7.5"/>
<circle cx="892.8" cy="943.5" r="7.5"/>
<circle cx="902.5" cy="950.8" r="7.5"/>
<circle cx="916" cy="951.7" r="7.5"/>
<circle cx="933" cy="949.3" r="7.5"/>
<circle cx="946.1" cy="951.2" r="7.5"/>
<circle cx="958.2" cy="955.1" r="7.5"/>
<circle cx="957.2" cy="971.1" r="7.5"/>
<circle cx="958.2" cy="985.6" r="7.5"/>
<circle cx="964" cy="1001.1" r="7.5"/>
<circle cx="979" cy="995.3" r="7.5"/>
<circle cx="990.6" cy="1003.5" r="7.5"/>
<circle cx="1010.5" cy="996.8" r="7.5"/>
<circle cx="1023.5" cy="994.3" r="7.5"/>
<circle cx="1031.8" cy="1002.6" r="7.5"/>
<circle cx="1040.5" cy="1011.3" r="7.5"/>
<circle cx="1049.2" cy="1019.5" r="7.5"/>
<circle cx="1058.9" cy="1027.7" r="7.5"/>
<circle cx="1071" cy="1031.6" r="7.5"/>
<circle cx="1074.4" cy="1040.3" r="7.5"/>
<circle cx="1086.5" cy="1042.8" r="7.5"/>
<circle cx="1092.8" cy="1053.4" r="7.5"/>
<circle cx="1099.6" cy="1063.1" r="7.5"/>
<circle cx="1113.1" cy="1067.9" r="7.5"/>
<circle cx="1120.4" cy="1077.6" r="7.5"/>
<circle cx="1127.7" cy="1087.3" r="7.5"/>
<circle cx="1143.1" cy="1089.7" r="7.5"/>
<circle cx="1155.7" cy="1089.7" r="7.5"/>
<circle cx="1166.4" cy="1095.5" r="7.5"/>
<circle cx="1185.8" cy="1091.2" r="7.5"/>
<circle cx="1193.5" cy="1100.4" r="7.5"/>
<circle cx="1207.6" cy="1104.3" r="7.5"/>
</g>
<g fill="#00ff00">
<circle cx="471.5" cy="453.5" r="7.5"/>
<circle cx="477.8" cy="454.9" r="7.5"/>
<circle cx="497.1" cy="438" r="7.5"/>
<circle cx="503" cy="434.1" r="7.5"/>
<circle cx="511.7" cy="426.9" r="7.5"/>
<circle cx="522.3" cy="417.7" r="7.5"/>
<circle cx="536.9" cy="406" r="7.5"/>
<circle cx="553.3" cy="395.4" r="7.5"/>
<circle cx="568.8" cy="385.2" r="7.5"/>
<circle cx="590.1" cy="374.1" r="7.5"/>
<circle cx="613.4" cy="362" r="7.5"/>
<circle cx="628.9" cy="353.7" r="7.5"/>
<circle cx="656.9" cy="338.2" r="7.5"/>
<circle cx="673.4" cy="330" r="7.5"/>
<circle cx="687" cy="322.7" r="7.5"/>
<circle cx="710.2" cy="311.1" r="7.5"/>
<circle cx="732" cy="301.4" r="7.5"/>
<circle cx="755.7" cy="290.8" r="7.5"/>
<circle cx="779" cy="280.1" r="7.5"/>
<circle cx="795.9" cy="271.4" r="7.5"/>
<circle cx="812.9" cy="263.2" r="7.5"/>
<circle cx="838.1" cy="252.5" r="7.5"/>
<circle cx="862.8" cy="241.9" r="7.5"/>
<circle cx="877.3" cy="235.6" r="7.5"/>
<circle cx="889.4" cy="231.7" r="7.5"/>
<circle cx="895.2" cy="239.4" r="7.5"/>
<circle cx="903.9" cy="245.3" r="7.5"/>
<circle cx="912.2" cy="249.6" r="7.5"/>
<circle cx="933.9" cy="259.8" r="7.5"/>
<circle cx="955.3" cy="270.4" r="7.5"/>
<circle cx="971.7" cy="277.7" r="7.5"/>
<circle cx="989.6" cy="286.4" r="7.5"/>
<circle cx="1017.2" cy="300.9" r="7.5"/>
<circle cx="1034.2" cy="310.1" r="7.5"/>
<circle cx="1055" cy="322.3" r="7.5"/>
<circle cx="1072.9" cy="331" r="7.5"/>
<circle cx="1094.7" cy="341.6" r="7.5"/>
<circle cx="1110.2" cy="349.4" r="7.5"/>
<circle cx="1127.2" cy="358.1" r="7.5"/>
<circle cx="1147" cy="367.8" r="7.5"/>
<circle cx="1160.1" cy="375.5" r="7.5"/>
<circle cx="1176.6" cy="386.2" r="7.5"/>
<circle cx="1194" cy="395.4" r="7.5"/>
<circle cx="482.1" cy="465.6" r="7.5"/>
<circle cx="498.6" cy="483" r="7.5"/>
<circle cx="513.6" cy="496.6" r="7.5"/>
<circle cx="526.2" cy="510.1" r="7.5"/>
<circle cx="540.7" cy="520.3" r="7.5"/>
<circle cx="556.7" cy="534.8" r="7.5"/>
<circle cx="575.1" cy="545" r="7.5"/>
<circle cx="587.7" cy="558.1" r="7.5"/>
<circle cx="601.3" cy="573.6" r="7.5"/>
<circle cx="613.4" cy="590" r="7.5"/>
<circle cx="622.6" cy="604.6" r="7.5"/>
<circle cx="648.2" cy="608" r="7.5"/>
<circle cx="1205.8" cy="402.2" r="7.5"/>
<circle cx="1220.8" cy="409.9" r="7.5"/>
<circle cx="1243.6" cy="420.6" r="7.5"/>
<circle cx="1249.4" cy="423.9" r="7.5"/>
<circle cx="1263" cy="431.2" r="7.5"/>
<circle cx="1280.9" cy="440.9" r="7.5"/>
<circle cx="1296.9" cy="449.6" r="7.5"/>
<circle cx="1312.3" cy="458.3" r="7.5"/>
<circle cx="1328.3" cy="468" r="7.5"/>
<circle cx="1342.9" cy="476.7" r="7.5"/>
<circle cx="1356.4" cy="485" r="7.5"/>
<circle cx="1373.4" cy="495.1" r="7.5"/>
<circle cx="1390.3" cy="503.8" r="7.5"/>
<circle cx="1405.8" cy="512.6" r="7.5"/>
<circle cx="1418.4" cy="519.8" r="7.5"/>
<circle cx="1432.4" cy="527.1" r="7.5"/>
<circle cx="1447" cy="533.9" r="7.5"/>
<circle cx="1461.5" cy="540.7" r="7.5"/>
<circle cx="1475.1" cy="548.9" r="7.5"/>
<circle cx="1488.1" cy="555.2" r="7.5"/>
<circle cx="1501.2" cy="562.4" r="7.5"/>
<circle cx="1518.6" cy="573.1" r="7.5"/>
<circle cx="1523.5" cy="577.9" r="7.5"/>
<circle cx="1534.1" cy="585.2" r="7.5"/>
<circle cx="1547.2" cy="595.9" r="7.5"/>
<circle cx="1565.6" cy="608" r="7.5"/>
<circle cx="659.4" cy="620" r="7.5"/>
<circle cx="674.9" cy="629.7" r="7.5"/>
<circle cx="690.8" cy="642.8" r="7.5"/>
<circle cx="701.5" cy="653.9" r="7.5"/>
<circle cx="712.6" cy="665" r="7.5"/>
<circle cx="725.7" cy="674.2" r="7.5"/>
<circle cx="748.5" cy="674.2" r="7.5"/>
<circle cx="760.6" cy="681" r="7.5"/>
<circle cx="774.1" cy="692.6" r="7.5"/>
<circle cx="781.4" cy="703.3" r="7.5"/>
<circle cx="797.4" cy="711" r="7.5"/>
<circle cx="815.8" cy="718.3" r="7.5"/>
<circle cx="832.3" cy="724.1" r="7.5"/>
<circle cx="841.9" cy="736.2" r="7.5"/>
<circle cx="851.6" cy="744.9" r="7.5"/>
<circle cx="866.2" cy="755.6" r="7.5"/>
<circle cx="881.6" cy="759.5" r="7.5"/>
<circle cx="894.2" cy="766.7" r="7.5"/>
<circle cx="904.9" cy="775.9" r="7.5"/>
<circle cx="917" cy="785.6" r="7.5"/>
<circle cx="929.1" cy="798.2" r="7.5"/>
<circle cx="936.4" cy="809.8" r="7.5"/>
<circle cx="948.5" cy="816.1" r="7.5"/>
<circle cx="964" cy="820.5" r="7.5"/>
<circle cx="981.9" cy="823.4" r="7.5"/>
<circle cx="996.9" cy="828.2" r="7.5"/>
<circle cx="1012.9" cy="836" r="7.5"/>
<circle cx="1026" cy="842.8" r="7.5"/>
<circle cx="1034.7" cy="852.4" r="7.5"/>
<circle cx="1050.2" cy="859.7" r="7.5"/>
<circle cx="1067.1" cy="862.1" r="7.5"/>
<circle cx="1079.2" cy="870.8" r="7.5"/>
<circle cx="1088.9" cy="879.1" r="7.5"/>
<circle cx="1099.6" cy="892.2" r="7.5"/>
<circle cx="1111.2" cy="903.3" r="7.5"/>
<circle cx="1120.4" cy="917.8" r="7.5"/>
<circle cx="1127.7" cy="929.9" r="7.5"/>
<circle cx="1150.9" cy="925.1" r="7.5"/>
<circle cx="1172.2" cy="923.6" r="7.5"/>
<circle cx="1582.6" cy="620" r="7.5"/>
<circle cx="1598.1" cy="627.3" r="7.5"/>
<circle cx="1611.6" cy="633.6" r="7.5"/>
<circle cx="1623.7" cy="641.8" r="7.5"/>
<circle cx="1635.8" cy="651.5" r="7.5"/>
<circle cx="1647.9" cy="660.2" r="7.5"/>
<circle cx="1661" cy="668.4" r="7.5"/>
<circle cx="1672.2" cy="676.7" r="7.5"/>
<circle cx="1683.3" cy="684.4" r="7.5"/>
<circle cx="1694.9" cy="695.1" r="7.5"/>
<circle cx="1707.5" cy="705.7" r="7.5"/>
<circle cx="1723" cy="715.9" r="7.5"/>
<circle cx="1735.1" cy="723.1" r="7.5"/>
<circle cx="1747.2" cy="731.4" r="7.5"/>
<circle cx="1761.7" cy="743.5" r="7.5"/>
<circle cx="1781.1" cy="752.2" r="7.5"/>
<circle cx="1799" cy="761.9" r="7.5"/>
<circle cx="1811.1" cy="770.1" r="7.5"/>
<circle cx="1821.3" cy="775.9" r="7.5"/>
<circle cx="1835.4" cy="785.6" r="7.5"/>
<circle cx="1849.9" cy="794.3" r="7.5"/>
<circle cx="1859.6" cy="801.6" r="7.5"/>
<circle cx="1873.1" cy="811.8" r="7.5"/>
<circle cx="1887.7" cy="821" r="7.5"/>
<circle cx="1900.2" cy="832.1" r="7.5"/>
<circle cx="1913.3" cy="843.7" r="7.5"/>
<circle cx="1927.4" cy="855.8" r="7.5"/>
<circle cx="1941.9" cy="867" r="7.5"/>
<circle cx="1954.5" cy="876.7" r="7.5"/>
<circle cx="1964.2" cy="871.8" r="7.5"/>
<circle cx="1973.8" cy="871.8" r="7.5"/>
<circle cx="1961.3" cy="885.4" r="7.5"/>
<circle cx="1954.5" cy="903.3" r="7.5"/>
<circle cx="1940.9" cy="911.5" r="7.5"/>
<circle cx="1924" cy="925.1" r="7.5"/>
<circle cx="1909.4" cy="938.2" r="7.5"/>
<circle cx="1899.8" cy="953.2" r="7.5"/>
<circle cx="1883.8" cy="962.4" r="7.5"/>
<circle cx="1868.3" cy="973.5" r="7.5"/>
<circle cx="1847.9" cy="984.2" r="7.5"/>
<circle cx="1834.4" cy="994.3" r="7.5"/>
<circle cx="1815" cy="1007.4" r="7.5"/>
<circle cx="1798.5" cy="1013.2" r="7.5"/>
<circle cx="1783.5" cy="1021" r="7.5"/>
<circle cx="1761.7" cy="1034" r="7.5"/>
<circle cx="1744.8" cy="1040.3" r="7.5"/>
<circle cx="1720.6" cy="1048.6" r="7.5"/>
<circle cx="1698.8" cy="1055.8" r="7.5"/>
<circle cx="1678.5" cy="1062.1" r="7.5"/>
<circle cx="1663.9" cy="1072.8" r="7.5"/>
<circle cx="1647.9" cy="1081" r="7.5"/>
<circle cx="1623.7" cy="1088.8" r="7.5"/>
<circle cx="1603.4" cy="1101.8" r="7.5"/>
<circle cx="1584" cy="1090.7" r="7.5"/>
<circle cx="1569.5" cy="1089.7" r="7.5"/>
<circle cx="1552.5" cy="1111.5" r="7.5"/>
<circle cx="1534.1" cy="1123.6" r="7.5"/>
<circle cx="1531.7" cy="1116.4" r="7.5"/>
<circle cx="1513.8" cy="1106.7" r="7.5"/>
<circle cx="1500.2" cy="1093.6" r="7.5"/>
<circle cx="1493" cy="1086.3" r="7.5"/>
<circle cx="1486.7" cy="1071.3" r="7.5"/>
<circle cx="1475.1" cy="1056.8" r="7.5"/>
<circle cx="1454.2" cy="1051" r="7.5"/>
<circle cx="1437.3" cy="1045.2" r="7.5"/>
<circle cx="1425.2" cy="1027.7" r="7.5"/>
<circle cx="1405.8" cy="1014.7" r="7.5"/>
<circle cx="1394.7" cy="1003.5" r="7.5"/>
<circle cx="1385" cy="989" r="7.5"/>
<circle cx="1362.7" cy="983.2" r="7.5"/>
<circle cx="1351.6" cy="975" r="7.5"/>
<circle cx="1339" cy="960.4" r="7.5"/>
<circle cx="1318.6" cy="955.1" r="7.5"/>
<circle cx="1304.1" cy="953.2" r="7.5"/>
<circle cx="1285.2" cy="952.7" r="7.5"/>
<circle cx="1275.1" cy="943.5" r="7.5"/>
<circle cx="1258.1" cy="929.9" r="7.5"/>
<circle cx="1248.4" cy="920.2" r="7.5"/>
<circle cx="1233.9" cy="912" r="7.5"/>
<circle cx="1213.1" cy="918.8" r="7.5"/>
<circle cx="1200" cy="921.2" r="7.5"/>
</g>
<g fill="#ff00ff">
<circle cx="605.6" cy="317.9" r="7.5"/>
<circle cx="615.3" cy="310.1" r="7.5"/>
<circle cx="627.9" cy="317.9" r="7.5"/>
<circle cx="628.9" cy="302.4" r="7.5"/>
<circle cx="645.3" cy="295.1" r="7.5"/>
<circle cx="670.5" cy="280.6" r="7.5"/>
<circle cx="689.4" cy="272.4" r="7.5"/>
<circle cx="712.6" cy="261.2" r="7.5"/>
<circle cx="731" cy="254" r="7.5"/>
<circle cx="752.3" cy="242.3" r="7.5"/>
<circle cx="773.2" cy="229.3" r="7.5"/>
<circle cx="801.3" cy="216.2" r="7.5"/>
<circle cx="831.3" cy="202.6" r="7.5"/>
<circle cx="845.8" cy="195.9" r="7.5"/>
<circle cx="871" cy="183.3" r="7.5"/>
<circle cx="880.7" cy="179.4" r="7.5"/>
<circle cx="889.4" cy="175" r="7.5"/>
<circle cx="901.5" cy="158.1" r="7.5"/>
<circle cx="910.7" cy="162.9" r="7.5"/>
<circle cx="924.3" cy="169.2" r="7.5"/>
<circle cx="940.7" cy="176" r="7.5"/>
<circle cx="959.6" cy="184.7" r="7.5"/>
<circle cx="984.8" cy="196.3" r="7.5"/>
<circle cx="999.8" cy="202.6" r="7.5"/>
<circle cx="1025.5" cy="214.3" r="7.5"/>
<circle cx="1045.3" cy="224.9" r="7.5"/>
<circle cx="1068.1" cy="238.5" r="7.5"/>
<circle cx="1085.5" cy="247.7" r="7.5"/>
<circle cx="1098.6" cy="253" r="7.5"/>
<circle cx="1118" cy="260.8" r="7.5"/>
<circle cx="1134.9" cy="269" r="7.5"/>
<circle cx="1151.9" cy="277.7" r="7.5"/>
<circle cx="1164" cy="286.4" r="7.5"/>
<circle cx="1190.1" cy="302.4" r="7.5"/>
<circle cx="1205.8" cy="310.6" r="7.5"/>
<circle cx="1220.8" cy="319.8" r="7.5"/>
<circle cx="1239.7" cy="329" r="7.5"/>
<circle cx="1255.7" cy="337.3" r="7.5"/>
<circle cx="1269.2" cy="344" r="7.5"/>
<circle cx="1293.5" cy="356.6" r="7.5"/>
<circle cx="1310.4" cy="366.8" r="7.5"/>
<circle cx="1324.9" cy="375" r="7.5"/>
<circle cx="1342.9" cy="385.7" r="7.5"/>
<circle cx="1351.1" cy="392" r="7.5"/>
<circle cx="1370.9" cy="402.6" r="7.5"/>
<circle cx="1388.9" cy="412.8" r="7.5"/>
<circle cx="1404.4" cy="421.5" r="7.5"/>
<circle cx="1417.9" cy="430.7" r="7.5"/>
<circle cx="1435.8" cy="440.9" r="7.5"/>
<circle cx="1447.9" cy="449.6" r="7.5"/>
<circle cx="1463.4" cy="460.3" r="7.5"/>
<circle cx="1487.7" cy="473.8" r="7.5"/>
<circle cx="1505.1" cy="483.5" r="7.5"/>
<circle cx="1525.4" cy="495.6" r="7.5"/>
<circle cx="1539" cy="503.8" r="7.5"/>
<circle cx="1544.8" cy="510.1" r="7.5"/>
<circle cx="1553.5" cy="519.8" r="7.5"/>
<circle cx="1570.5" cy="533.9" r="7.5"/>
<circle cx="1577.7" cy="540.7" r="7.5"/>
<circle cx="1590.3" cy="550.3" r="7.5"/>
<circle cx="1601.9" cy="560" r="7.5"/>
<circle cx="1617.4" cy="573.1" r="7.5"/>
<circle cx="1628.1" cy="583.8" r="7.5"/>
<circle cx="1646.5" cy="597.8" r="7.5"/>
<circle cx="1656.2" cy="610.4" r="7.5"/>
<circle cx="1663" cy="616.7" r="7.5"/>
<circle cx="1663.9" cy="623" r="7.5"/>
<circle cx="648.2" cy="328.5" r="7.5"/>
<circle cx="663.7" cy="333.4" r="7.5"/>
<circle cx="674.4" cy="351.8" r="7.5"/>
<circle cx="690.8" cy="362.4" r="7.5"/>
<circle cx="703.9" cy="383.8" r="7.5"/>
<circle cx="721.8" cy="389.1" r="7.5"/>
<circle cx="743.6" cy="399.7" r="7.5"/>
<circle cx="762" cy="406.5" r="7.5"/>
<circle cx="772.7" cy="420.6" r="7.5"/>
<circle cx="788.7" cy="434.1" r="7.5"/>
<circle cx="805.6" cy="448.2" r="7.5"/>
<circle cx="823.5" cy="448.6" r="7.5"/>
<circle cx="838.5" cy="459.3" r="7.5"/>
<circle cx="856.9" cy="475.8" r="7.5"/>
<circle cx="871" cy="489.3" r="7.5"/>
<circle cx="892.8" cy="486.9" r="7.5"/>
<circle cx="915.5" cy="494.2" r="7.5"/>
<circle cx="928.1" cy="508.7" r="7.5"/>
<circle cx="940.7" cy="518.4" r="7.5"/>
<circle cx="958.2" cy="531.9" r="7.5"/>
<circle cx="971.7" cy="545" r="7.5"/>
<circle cx="987.2" cy="548.9" r="7.5"/>
<circle cx="1004.6" cy="557.1" r="7.5"/>
<circle cx="1018.7" cy="569.7" r="7.5"/>
<circle cx="1028.9" cy="589.1" r="7.5"/>
<circle cx="1045.3" cy="599.7" r="7.5"/>
<circle cx="1063.7" cy="604.6" r="7.5"/>
<circle cx="1080.7" cy="612.3" r="7.5"/>
<circle cx="1098.6" cy="620" r="7.5"/>
<circle cx="1117" cy="625.8" r="7.5"/>
<circle cx="1132.5" cy="634.5" r="7.5"/>
<circle cx="1154.3" cy="641.8" r="7.5"/>
<circle cx="1164.9" cy="652.9" r="7.5"/>
<circle cx="1180" cy="662.1" r="7.5"/>
<circle cx="1200" cy="677.1" r="7.5"/>
<circle cx="1209.7" cy="691.7" r="7.5"/>
<circle cx="1225.2" cy="696" r="7.5"/>
<circle cx="1249.9" cy="698.9" r="7.5"/>
<circle cx="1271.2" cy="702.3" r="7.5"/>
<circle cx="1289.1" cy="703.8" r="7.5"/>
<circle cx="1310.9" cy="706.2" r="7.5"/>
<circle cx="1330.8" cy="712.5" r="7.5"/>
<circle cx="1344.3" cy="729.4" r="7.5"/>
<circle cx="1357.4" cy="741.1" r="7.5"/>
<circle cx="1371.9" cy="759.5" r="7.5"/>
<circle cx="1384" cy="757" r="7.5"/>
<circle cx="1398.5" cy="756.1" r="7.5"/>
</g>
<g fill="#ff0000">
<circle cx="270.8" cy="2313" r="8.1"/>
<circle cx="271.3" cy="2296.1" r="8.1"/>
<circle cx="271.3" cy="2278.1" r="8.1"/>
<circle cx="272.8" cy="2259.7" r="8.1"/>
<circle cx="272.8" cy="2241.3" r="8.1"/>
<circle cx="273.7" cy="2223.4" r="8.1"/>
<circle cx="274.2" cy="2205" r="8.1"/>
<circle cx="276.2" cy="2187.1" r="8.1"/>
<circle cx="279.1" cy="2168.7" r="8.1"/>
<circle cx="279.5" cy="2150.8" r="8.1"/>
<circle cx="280" cy="2131.9" r="8.1"/>
<circle cx="282.4" cy="2113.5" r="8.1"/>
<circle cx="282.9" cy="2095.1" r="8.1"/>
<circle cx="285.4" cy="2076.7" r="8.1"/>
<circle cx="289.7" cy="2058.8" r="8.1"/>
<circle cx="292.6" cy="2040.4" r="8.1"/>
<circle cx="303.3" cy="2024.4" r="8.1"/>
<circle cx="313" cy="2008.4" r="8.1"/>
<circle cx="327.5" cy="1993.9" r="8.1"/>
<circle cx="342" cy="1979.8" r="8.1"/>
<circle cx="356.5" cy="1965.8" r="8.1"/>
<circle cx="373" cy="1953.7" r="8.1"/>
<circle cx="392.4" cy="1942.5" r="8.1"/>
<circle cx="412.7" cy="1932.4" r="8.1"/>
<circle cx="445.6" cy="1928.5" r="8.1"/>
<circle cx="480.5" cy="1927" r="8.1"/>
<circle cx="514.4" cy="1926.1" r="8.1"/>
<circle cx="552.7" cy="1927.5" r="8.1"/>
<circle cx="581.7" cy="1927" r="8.1"/>
<circle cx="611.3" cy="1927" r="8.1"/>
<circle cx="638.4" cy="1927" r="8.1"/>
<circle cx="666" cy="1927.5" r="8.1"/>
<circle cx="691.6" cy="1928.5" r="8.1"/>
<circle cx="712.5" cy="1926.6" r="8.1"/>
<circle cx="730.9" cy="1923.7" r="8.1"/>
<circle cx="744.9" cy="1917.8" r="8.1"/>
<circle cx="759.9" cy="1914" r="8.1"/>
<circle cx="776.9" cy="1912.5" r="8.1"/>
<circle cx="798.7" cy="1914.9" r="8.1"/>
<circle cx="821.4" cy="1917.4" r="8.1"/>
<circle cx="837.9" cy="1917.8" r="8.1"/>
<circle cx="856.8" cy="1919.8" r="8.1"/>
<circle cx="870.8" cy="1918.3" r="8.1"/>
<circle cx="885.8" cy="1917.8" r="8.1"/>
<circle cx="899.9" cy="1916.9" r="8.1"/>
<circle cx="911.5" cy="1915.4" r="8.1"/>
<circle cx="926.5" cy="1916.4" r="8.1"/>
<circle cx="939.6" cy="1916.4" r="8.1"/>
<circle cx="953.6" cy="1917.4" r="8.1"/>
<circle cx="967.2" cy="1917.8" r="8.1"/>
<circle cx="981.2" cy="1916.9" r="8.1"/>
<circle cx="1574" cy="1910.1" r="8.1"/>
<circle cx="1588.5" cy="1909.1" r="8.1"/>
<circle cx="1600.6" cy="1909.1" r="8.1"/>
<circle cx="1612.7" cy="1910.1" r="8.1"/>
<circle cx="1627.3" cy="1912.5" r="8.1"/>
<circle cx="1639.4" cy="1914" r="8.1"/>
<circle cx="1651.5" cy="1914.5" r="8.1"/>
<circle cx="1663.6" cy="1914" r="8.1"/>
<circle cx="1678.1" cy="1913" r="8.1"/>
<circle cx="1690.2" cy="1912.5" r="8.1"/>
<circle cx="1703.8" cy="1914" r="8.1"/>
<circle cx="1715.4" cy="1915.9" r="8.1"/>
<circle cx="1731.4" cy="1913.5" r="8.1"/>
<circle cx="1745.9" cy="1914.5" r="8.1"/>
<circle cx="1762.9" cy="1913.5" r="8.1"/>
<circle cx="1778.4" cy="1913" r="8.1"/>
<circle cx="1792.9" cy="1914.5" r="8.1"/>
<circle cx="1807.4" cy="1917.4" r="8.1"/>
<circle cx="1821.9" cy="1919.8" r="8.1"/>
<circle cx="1837.9" cy="1922.7" r="8.1"/>
<circle cx="1853.9" cy="1925.1" r="8.1"/>
<circle cx="1872.8" cy="1926.1" r="8.1"/>
<circle cx="1892.2" cy="1927" r="8.1"/>
<circle cx="1913" cy="1928" r="8.1"/>
<circle cx="1942" cy="1924.6" r="8.1"/>
<circle cx="1971.1" cy="1921.7" r="8.1"/>
<circle cx="1998.2" cy="1920.8" r="8.1"/>
<circle cx="2026.3" cy="1920.8" r="8.1"/>
<circle cx="2048.6" cy="1926.1" r="8.1"/>
<circle cx="2070.4" cy="1930.4" r="8.1"/>
<circle cx="2101.8" cy="1932.4" r="8.1"/>
<circle cx="2128.5" cy="1935.3" r="8.1"/>
<circle cx="2157.5" cy="1940.1" r="8.1"/>
<circle cx="2191.9" cy="1943" r="8.1"/>
<circle cx="2222.9" cy="1947.4" r="8.1"/>
<circle cx="2252" cy="1953.7" r="8.1"/>
<circle cx="2281" cy="1960.9" r="8.1"/>
<circle cx="2297" cy="1975" r="8.1"/>
<circle cx="2300.4" cy="1993.4" r="8.1"/>
<circle cx="2305.2" cy="2011.3" r="8.1"/>
<circle cx="2300.4" cy="2030.2" r="8.1"/>
<circle cx="2299.4" cy="2050" r="8.1"/>
<circle cx="2301.8" cy="2068" r="8.1"/>
<circle cx="2304.3" cy="2085.4" r="8.1"/>
<circle cx="2307.7" cy="2103.8" r="8.1"/>
<circle cx="2307.7" cy="2121.7" r="8.1"/>
<circle cx="2308.1" cy="2139.2" r="8.1"/>
<circle cx="2309.1" cy="2157.1" r="8.1"/>
<circle cx="2307.2" cy="2175" r="8.1"/>
<circle cx="2304.3" cy="2192.9" r="8.1"/>
<circle cx="2304.3" cy="2210.3" r="8.1"/>
<circle cx="2305.2" cy="2228.3" r="8.1"/>
<circle cx="2306.2" cy="2245.2" r="8.1"/>
<circle cx="2307.2" cy="2263.1" r="8.1"/>
<circle cx="2311" cy="2280.1" r="8.1"/>
<circle cx="2314" cy="2297.5" r="8.1"/>
<circle cx="2314.9" cy="2314" r="8.1"/>
<circle cx="2312.5" cy="2332.4" r="8.1"/>
<circle cx="2313.5" cy="2349.4" r="8.1"/>
<circle cx="2310.6" cy="2366.8" r="8.1"/>
<circle cx="2307.2" cy="2383.8" r="8.1"/>
<circle cx="2306.2" cy="2401.7" r="8.1"/>
<circle cx="2304.3" cy="2418.6" r="8.1"/>
<circle cx="2302.8" cy="2436.6" r="8.1"/>
<circle cx="2302.8" cy="2454" r="8.1"/>
<circle cx="2303.8" cy="2471.9" r="8.1"/>
<circle cx="2305.2" cy="2489.8" r="8.1"/>
<circle cx="2307.2" cy="2507.3" r="8.1"/>
<circle cx="2307.2" cy="2525.2" r="8.1"/>
<circle cx="2308.1" cy="2543.6" r="8.1"/>
<circle cx="2306.2" cy="2561.5" r="8.1"/>
<circle cx="2302.8" cy="2579.4" r="8.1"/>
<circle cx="2300.4" cy="2597.3" r="8.1"/>
<circle cx="2300.4" cy="2615.7" r="8.1"/>
<circle cx="2298.5" cy="2634.1" r="8.1"/>
<circle cx="2296.5" cy="2652.1" r="8.1"/>
<circle cx="2289.7" cy="2669" r="8.1"/>
<circle cx="2268.9" cy="2678.7" r="8.1"/>
<circle cx="2242.3" cy="2687.4" r="8.1"/>
<circle cx="2209.4" cy="2693.2" r="8.1"/>
<circle cx="2175.5" cy="2697.1" r="8.1"/>
<circle cx="2143.5" cy="2700.5" r="8.1"/>
<circle cx="2115.4" cy="2705.3" r="8.1"/>
<circle cx="2088.3" cy="2709.2" r="8.1"/>
<circle cx="2062.1" cy="2711.6" r="8.1"/>
<circle cx="2037.4" cy="2715.5" r="8.1"/>
<circle cx="2014.7" cy="2717.9" r="8.1"/>
<circle cx="1989.5" cy="2720.8" r="8.1"/>
<circle cx="1963.3" cy="2720.3" r="8.1"/>
<circle cx="1938.2" cy="2719.4" r="8.1"/>
<circle cx="1909.6" cy="2716.5" r="8.1"/>
<circle cx="1887.3" cy="2716.5" r="8.1"/>
<circle cx="1868.4" cy="2717.9" r="8.1"/>
<circle cx="1853.4" cy="2722.3" r="8.1"/>
<circle cx="1839.4" cy="2726.2" r="8.1"/>
<circle cx="1822.9" cy="2727.6" r="8.1"/>
<circle cx="1804" cy="2726.2" r="8.1"/>
<circle cx="1784.2" cy="2724.2" r="8.1"/>
<circle cx="1767.7" cy="2724.2" r="8.1"/>
<circle cx="1751.2" cy="2724.2" r="8.1"/>
<circle cx="1736.2" cy="2724.7" r="8.1"/>
<circle cx="1723.2" cy="2726.2" r="8.1"/>
<circle cx="1709.6" cy="2725.2" r="8.1"/>
<circle cx="1697" cy="2725.2" r="8.1"/>
<circle cx="1684.9" cy="2728.6" r="8.1"/>
<circle cx="1670.9" cy="2726.2" r="8.1"/>
<circle cx="1658.7" cy="2726.2" r="8.1"/>
<circle cx="1646.6" cy="2726.2" r="8.1"/>
<circle cx="1633.6" cy="2724.2" r="8.1"/>
<circle cx="1622.4" cy="2726.2" r="8.1"/>
<circle cx="1610.3" cy="2728.1" r="8.1"/>
<circle cx="1598.2" cy="2728.6" r="8.1"/>
<circle cx="1586.1" cy="2729.5" r="8.1"/>
<circle cx="1574" cy="2730" r="8.1"/>
<circle cx="270.8" cy="2332.9" r="8.1"/>
<circle cx="272.3" cy="2350.8" r="8.1"/>
<circle cx="272.3" cy="2369.2" r="8.1"/>
<circle cx="275.2" cy="2387.2" r="8.1"/>
<circle cx="276.6" cy="2405.6" r="8.1"/>
<circle cx="278.1" cy="2423.5" r="8.1"/>
<circle cx="279.1" cy="2441.4" r="8.1"/>
<circle cx="278.1" cy="2459.8" r="8.1"/>
<circle cx="279.1" cy="2478.2" r="8.1"/>
<circle cx="279.1" cy="2496.6" r="8.1"/>
<circle cx="280" cy="2515.5" r="8.1"/>
<circle cx="282.4" cy="2533.4" r="8.1"/>
<circle cx="283.9" cy="2551.3" r="8.1"/>
<circle cx="290.7" cy="2568.3" r="8.1"/>
<circle cx="297.9" cy="2586.2" r="8.1"/>
<circle cx="306.2" cy="2603.1" r="8.1"/>
<circle cx="315.9" cy="2619.6" r="8.1"/>
<circle cx="323.6" cy="2635.6" r="8.1"/>
<circle cx="335.7" cy="2650.1" r="8.1"/>
<circle cx="346.4" cy="2665.6" r="8.1"/>
<circle cx="362.8" cy="2678.7" r="8.1"/>
<circle cx="384.6" cy="2688.9" r="8.1"/>
<circle cx="403.5" cy="2700" r="8.1"/>
<circle cx="432.6" cy="2706.8" r="8.1"/>
<circle cx="461.6" cy="2711.1" r="8.1"/>
<circle cx="489.2" cy="2715.5" r="8.1"/>
<circle cx="524.6" cy="2716" r="8.1"/>
<circle cx="555.6" cy="2716.9" r="8.1"/>
<circle cx="587" cy="2717.4" r="8.1"/>
<circle cx="613.2" cy="2719.4" r="8.1"/>
<circle cx="642.7" cy="2718.4" r="8.1"/>
<circle cx="666.5" cy="2719.4" r="8.1"/>
<circle cx="688.3" cy="2721.3" r="8.1"/>
<circle cx="716.8" cy="2717.4" r="8.1"/>
<circle cx="733.3" cy="2721.8" r="8.1"/>
<circle cx="754.1" cy="2722.8" r="8.1"/>
<circle cx="772.5" cy="2723.2" r="8.1"/>
<circle cx="788.5" cy="2726.2" r="8.1"/>
<circle cx="806.9" cy="2726.2" r="8.1"/>
<circle cx="825.3" cy="2726.2" r="8.1"/>
<circle cx="841.3" cy="2726.2" r="8.1"/>
<circle cx="859.2" cy="2725.7" r="8.1"/>
<circle cx="875.7" cy="2725.2" r="8.1"/>
<circle cx="890.2" cy="2725.2" r="8.1"/>
<circle cx="905.7" cy="2723.7" r="8.1"/>
<circle cx="918.3" cy="2725.2" r="8.1"/>
<circle cx="931.8" cy="2724.2" r="8.1"/>
<circle cx="1000" cy="1916.9" r="8.1"/>
<circle cx="1004.8" cy="1917.2" r="8.1"/>
<circle cx="1009.7" cy="1917.5" r="8.1"/>
<circle cx="1014.5" cy="1917.8" r="8.1"/>
<circle cx="1019.4" cy="1918.3" r="8.1"/>
<circle cx="1024.2" cy="1918.8" r="8.1"/>
<circle cx="1029.1" cy="1919.3" r="8.1"/>
<circle cx="1034.7" cy="1919.8" r="8.1"/>
<circle cx="1040.4" cy="1920.3" r="8.1"/>
<circle cx="1046" cy="1920.8" r="8.1"/>
<circle cx="1051.7" cy="1919.5" r="8.1"/>
<circle cx="1057.3" cy="1918.2" r="8.1"/>
<circle cx="1063" cy="1916.9" r="8.1"/>
<circle cx="1067.8" cy="1916.3" r="8.1"/>
<circle cx="1072.6" cy="1915.7" r="8.1"/>
<circle cx="1077.5" cy="1915.1" r="8.1"/>
<circle cx="1082.3" cy="1914.5" r="8.1"/>
<circle cx="1087.2" cy="1914.3" r="8.1"/>
<circle cx="1092" cy="1914.1" r="8.1"/>
<circle cx="1096.9" cy="1913.9" r="8.1"/>
<circle cx="1101.7" cy="1913.7" r="8.1"/>
<circle cx="1106.5" cy="1913.5" r="8.1"/>
<circle cx="1111.4" cy="1913.7" r="8.1"/>
<circle cx="1116.2" cy="1914" r="8.1"/>
<circle cx="1121.1" cy="1914.2" r="8.1"/>
<circle cx="1125.9" cy="1914.5" r="8.1"/>
<circle cx="1130.8" cy="1914.7" r="8.1"/>
<circle cx="1135.6" cy="1914.9" r="8.1"/>
<circle cx="1140.4" cy="1914.7" r="8.1"/>
<circle cx="1145.3" cy="1914.6" r="8.1"/>
<circle cx="1150.1" cy="1914.4" r="8.1"/>
<circle cx="1155" cy="1914.2" r="8.1"/>
<circle cx="1159.8" cy="1914" r="8.1"/>
<circle cx="1164.6" cy="1913.6" r="8.1"/>
<circle cx="1169.5" cy="1913.3" r="8.1"/>
<circle cx="1174.3" cy="1912.9" r="8.1"/>
<circle cx="1179.2" cy="1912.6" r="8.1"/>
<circle cx="1184" cy="1912.2" r="8.1"/>
<circle cx="1188.9" cy="1911.9" r="8.1"/>
<circle cx="1193.7" cy="1911.5" r="8.1"/>
<circle cx="1198.5" cy="1911.3" r="8.1"/>
<circle cx="1203.4" cy="1911" r="8.1"/>
<circle cx="1208.2" cy="1910.7" r="8.1"/>
<circle cx="1213.1" cy="1910.4" r="8.1"/>
<circle cx="1217.9" cy="1910.1" r="8.1"/>
<circle cx="1223.2" cy="1911.5" r="8.1"/>
<circle cx="1228.6" cy="1912.8" r="8.1"/>
<circle cx="1233.9" cy="1914.2" r="8.1"/>
<circle cx="1239.2" cy="1915.5" r="8.1"/>
<circle cx="1244.6" cy="1916.9" r="8.1"/>
<circle cx="1248.8" cy="1915.4" r="8.1"/>
<circle cx="1253" cy="1914" r="8.1"/>
<circle cx="1257.3" cy="1912.5" r="8.1"/>
<circle cx="1261.5" cy="1911.1" r="8.1"/>
<circle cx="1266.3" cy="1910.5" r="8.1"/>
<circle cx="1271.2" cy="1909.9" r="8.1"/>
<circle cx="1276" cy="1909.4" r="8.1"/>
<circle cx="1280.9" cy="1908.8" r="8.1"/>
<circle cx="1285.7" cy="1908.2" r="8.1"/>
<circle cx="1290.6" cy="1907.7" r="8.1"/>
<circle cx="1295.4" cy="1907.5" r="8.1"/>
<circle cx="1300.2" cy="1907.3" r="8.1"/>
<circle cx="1305.1" cy="1907.1" r="8.1"/>
<circle cx="1309.9" cy="1906.9" r="8.1"/>
<circle cx="1314.8" cy="1906.7" r="8.1"/>
<circle cx="1319.6" cy="1906.3" r="8.1"/>
<circle cx="1324.5" cy="1906" r="8.1"/>
<circle cx="1329.3" cy="1905.6" r="8.1"/>
<circle cx="1334.1" cy="1905.3" r="8.1"/>
<circle cx="1339" cy="1905.9" r="8.1"/>
<circle cx="1343.8" cy="1906.5" r="8.1"/>
<circle cx="1348.7" cy="1907.1" r="8.1"/>
<circle cx="1353.5" cy="1907.7" r="8.1"/>
<circle cx="1358.4" cy="1908.8" r="8.1"/>
<circle cx="1363.2" cy="1909.9" r="8.1"/>
<circle cx="1368" cy="1911.1" r="8.1"/>
<circle cx="1372.9" cy="1910.5" r="8.1"/>
<circle cx="1377.7" cy="1909.9" r="8.1"/>
<circle cx="1382.6" cy="1909.2" r="8.1"/>
<circle cx="1387.4" cy="1908.6" r="8.1"/>
<circle cx="1392.3" cy="1908" r="8.1"/>
<circle cx="1397.1" cy="1907.4" r="8.1"/>
<circle cx="1401.9" cy="1906.8" r="8.1"/>
<circle cx="1406.8" cy="1906.2" r="8.1"/>
<circle cx="1411.6" cy="1906.3" r="8.1"/>
<circle cx="1416.5" cy="1906.5" r="8.1"/>
<circle cx="1421.3" cy="1906.6" r="8.1"/>
<circle cx="1426.2" cy="1906.7" r="8.1"/>
<circle cx="1431" cy="1907.3" r="8.1"/>
<circle cx="1435.8" cy="1907.9" r="8.1"/>
<circle cx="1440.7" cy="1908.5" r="8.1"/>
<circle cx="1445.5" cy="1909.1" r="8.1"/>
<circle cx="1450.4" cy="1909.4" r="8.1"/>
<circle cx="1455.2" cy="1909.6" r="8.1"/>
<circle cx="1460" cy="1909.9" r="8.1"/>
<circle cx="1464.9" cy="1910.1" r="8.1"/>
<circle cx="1469.7" cy="1909.7" r="8.1"/>
<circle cx="1474.6" cy="1909.4" r="8.1"/>
<circle cx="1479.4" cy="1909" r="8.1"/>
<circle cx="1484.3" cy="1908.6" r="8.1"/>
<circle cx="1489.1" cy="1909.5" r="8.1"/>
<circle cx="1493.9" cy="1910.3" r="8.1"/>
<circle cx="1498.8" cy="1911.2" r="8.1"/>
<circle cx="1503.6" cy="1912" r="8.1"/>
<circle cx="1508.5" cy="1912" r="8.1"/>
<circle cx="1513.3" cy="1912" r="8.1"/>
<circle cx="1518.2" cy="1912" r="8.1"/>
<circle cx="1523" cy="1912" r="8.1"/>
<circle cx="1527.8" cy="1911.8" r="8.1"/>
<circle cx="1532.7" cy="1911.5" r="8.1"/>
<circle cx="1537.5" cy="1911.3" r="8.1"/>
<circle cx="1542.4" cy="1911.1" r="8.1"/>
<circle cx="1547.2" cy="1910.9" r="8.1"/>
<circle cx="1552.1" cy="1910.8" r="8.1"/>
<circle cx="1556.9" cy="1910.7" r="8.1"/>
<circle cx="1561.7" cy="1910.6" r="8.1"/>
<circle cx="1567.8" cy="1910.3" r="8.1"/>
<circle cx="1573.8" cy="1910.1" r="8.1"/>
<circle cx="1000" cy="2727.1" r="8.1"/>
<circle cx="1004.8" cy="2727.1" r="8.1"/>
<circle cx="1009.7" cy="2727.1" r="8.1"/>
<circle cx="1014.5" cy="2727.1" r="8.1"/>
<circle cx="1019.4" cy="2726.5" r="8.1"/>
<circle cx="1024.2" cy="2725.8" r="8.1"/>
<circle cx="1029.1" cy="2725.2" r="8.1"/>
<circle cx="1033.9" cy="2725" r="8.1"/>
<circle cx="1038.7" cy="2724.9" r="8.1"/>
<circle cx="1043.6" cy="2724.7" r="8.1"/>
<circle cx="1048.4" cy="2725" r="8.1"/>
<circle cx="1053.3" cy="2725.3" r="8.1"/>
<circle cx="1058.1" cy="2725.7" r="8.1"/>
<circle cx="1063" cy="2725.8" r="8.1"/>
<circle cx="1067.8" cy="2726" r="8.1"/>
<circle cx="1072.6" cy="2726.2" r="8.1"/>
<circle cx="1077.5" cy="2726.2" r="8.1"/>
<circle cx="1082.3" cy="2726.2" r="8.1"/>
<circle cx="1087.2" cy="2726.2" r="8.1"/>
<circle cx="1092" cy="2725.7" r="8.1"/>
<circle cx="1096.9" cy="2725.2" r="8.1"/>
<circle cx="1101.7" cy="2724.7" r="8.1"/>
<circle cx="1106.5" cy="2723.9" r="8.1"/>
<circle cx="1111.4" cy="2723.1" r="8.1"/>
<circle cx="1116.2" cy="2722.3" r="8.1"/>
<circle cx="1121.1" cy="2721.3" r="8.1"/>
<circle cx="1125.9" cy="2720.3" r="8.1"/>
<circle cx="1130.8" cy="2719.4" r="8.1"/>
<circle cx="1135.6" cy="2720" r="8.1"/>
<circle cx="1140.4" cy="2720.7" r="8.1"/>
<circle cx="1145.3" cy="2721.3" r="8.1"/>
<circle cx="1150.1" cy="2721.8" r="8.1"/>
<circle cx="1155" cy="2722.3" r="8.1"/>
<circle cx="1159.8" cy="2722.8" r="8.1"/>
<circle cx="1164.6" cy="2723.2" r="8.1"/>
<circle cx="1169.5" cy="2723.7" r="8.1"/>
<circle cx="1174.3" cy="2724.2" r="8.1"/>
<circle cx="1179.2" cy="2724.7" r="8.1"/>
<circle cx="1184" cy="2725.2" r="8.1"/>
<circle cx="1188.9" cy="2725.7" r="8.1"/>
<circle cx="1193.7" cy="2725.8" r="8.1"/>
<circle cx="1198.5" cy="2726" r="8.1"/>
<circle cx="1203.4" cy="2726.2" r="8.1"/>
<circle cx="1208.2" cy="2725.8" r="8.1"/>
<circle cx="1213.1" cy="2725.5" r="8.1"/>
<circle cx="1217.9" cy="2725.2" r="8.1"/>
<circle cx="1222.8" cy="2724.4" r="8.1"/>
<circle cx="1227.6" cy="2723.6" r="8.1"/>
<circle cx="1232.4" cy="2722.8" r="8.1"/>
<circle cx="1237.3" cy="2722" r="8.1"/>
<circle cx="1242.1" cy="2721.3" r="8.1"/>
<circle cx="1247" cy="2722.3" r="8.1"/>
<circle cx="1251.8" cy="2723.2" r="8.1"/>
<circle cx="1256.7" cy="2724.2" r="8.1"/>
<circle cx="1261.5" cy="2725.7" r="8.1"/>
<circle cx="1266.3" cy="2727.1" r="8.1"/>
<circle cx="1271.2" cy="2728.6" r="8.1"/>
<circle cx="1276" cy="2728.7" r="8.1"/>
<circle cx="1280.9" cy="2728.9" r="8.1"/>
<circle cx="1285.7" cy="2729.1" r="8.1"/>
<circle cx="1290.6" cy="2728.6" r="8.1"/>
<circle cx="1295.4" cy="2728.1" r="8.1"/>
<circle cx="1300.2" cy="2727.6" r="8.1"/>
<circle cx="1305.1" cy="2727.4" r="8.1"/>
<circle cx="1309.9" cy="2727.1" r="8.1"/>
<circle cx="1314.8" cy="2727.1" r="8.1"/>
<circle cx="1319.6" cy="2727.1" r="8.1"/>
<circle cx="1324.5" cy="2727.1" r="8.1"/>
<circle cx="1329.3" cy="2727.4" r="8.1"/>
<circle cx="1334.1" cy="2727.8" r="8.1"/>
<circle cx="1339" cy="2728.1" r="8.1"/>
<circle cx="1343.8" cy="2727.8" r="8.1"/>
<circle cx="1348.7" cy="2727.4" r="8.1"/>
<circle cx="1353.5" cy="2727.1" r="8.1"/>
<circle cx="1358.4" cy="2726.5" r="8.1"/>
<circle cx="1363.2" cy="2725.8" r="8.1"/>
<circle cx="1368" cy="2725.2" r="8.1"/>
<circle cx="1372.9" cy="2725" r="8.1"/>
<circle cx="1377.7" cy="2724.9" r="8.1"/>
<circle cx="1382.6" cy="2724.7" r="8.1"/>
<circle cx="1388.6" cy="2723.7" r="8.1"/>
<circle cx="1394.7" cy="2722.8" r="8.1"/>
<circle cx="1400.7" cy="2723.5" r="8.1"/>
<circle cx="1406.8" cy="2724.2" r="8.1"/>
<circle cx="1411.6" cy="2725.5" r="8.1"/>
<circle cx="1416.5" cy="2726.8" r="8.1"/>
<circle cx="1421.3" cy="2728.1" r="8.1"/>
<circle cx="1426.2" cy="2729.1" r="8.1"/>
<circle cx="1431" cy="2730" r="8.1"/>
<circle cx="1435.8" cy="2731" r="8.1"/>
<circle cx="1440.7" cy="2730.8" r="8.1"/>
<circle cx="1445.5" cy="2730.7" r="8.1"/>
<circle cx="1450.4" cy="2730.5" r="8.1"/>
<circle cx="1455.2" cy="2729.4" r="8.1"/>
<circle cx="1460" cy="2728.2" r="8.1"/>
<circle cx="1464.9" cy="2727.1" r="8.1"/>
<circle cx="1469.7" cy="2726.8" r="8.1"/>
<circle cx="1474.6" cy="2726.5" r="8.1"/>
<circle cx="1479.4" cy="2726.2" r="8.1"/>
<circle cx="1484.3" cy="2726.2" r="8.1"/>
<circle cx="1489.1" cy="2726.2" r="8.1"/>
<circle cx="1493.9" cy="2726.2" r="8.1"/>
<circle cx="1498.8" cy="2726.2" r="8.1"/>
<circle cx="1503.6" cy="2726.2" r="8.1"/>
<circle cx="1508.5" cy="2726.2" r="8.1"/>
<circle cx="1513.3" cy="2726.3" r="8.1"/>
<circle cx="1518.2" cy="2726.5" r="8.1"/>
<circle cx="1523" cy="2726.6" r="8.1"/>
<circle cx="1527.8" cy="2726.6" r="8.1"/>
<circle cx="1532.7" cy="2726.6" r="8.1"/>
<circle cx="1537.5" cy="2726.6" r="8.1"/>
<circle cx="1542.4" cy="2727.1" r="8.1"/>
<circle cx="1547.2" cy="2727.6" r="8.1"/>
<circle cx="1552.1" cy="2728.1" r="8.1"/>
<circle cx="1556.9" cy="2728.4" r="8.1"/>
<circle cx="1561.7" cy="2728.7" r="8.1"/>
<circle cx="1566.6" cy="2729.1" r="8.1"/>
<circle cx="1573.8" cy="2729.1" r="8.1"/>
<circle cx="942.5" cy="2722.8" r="8.1"/>
<circle cx="947.1" cy="2722.4" r="8.1"/>
<circle cx="951.7" cy="2722" r="8.1"/>
<circle cx="956.3" cy="2721.7" r="8.1"/>
<circle cx="960.9" cy="2721.3" r="8.1"/>
<circle cx="965.3" cy="2721" r="8.1"/>
<circle cx="969.6" cy="2720.7" r="8.1"/>
<circle cx="974" cy="2720.3" r="8.1"/>
<circle cx="978" cy="2721.5" r="8.1"/>
<circle cx="982" cy="2722.6" r="8.1"/>
<circle cx="986.1" cy="2723.7" r="8.1"/>
<circle cx="990.8" cy="2725" r="8.1"/>
<circle cx="995.4" cy="2726.3" r="8.1"/>
<circle cx="1000.1" cy="2727.6" r="8.1"/>
</g>
<g fill="#0000ff">
<circle cx="888.3" cy="1854.4" r="8.1"/>
<circle cx="900.4" cy="1852" r="8.1"/>
<circle cx="909.6" cy="1850" r="8.1"/>
<circle cx="926" cy="1853.9" r="8.1"/>
<circle cx="947.8" cy="1841.8" r="8.1"/>
<circle cx="964.8" cy="1839.9" r="8.1"/>
<circle cx="981.2" cy="1834.6" r="8.1"/>
<circle cx="1003.9" cy="1828.7" r="8.1"/>
<circle cx="1018.4" cy="1833.6" r="8.1"/>
<circle cx="1034.4" cy="1837.5" r="8.1"/>
<circle cx="1056.2" cy="1833.6" r="8.1"/>
<circle cx="1072.2" cy="1837.5" r="8.1"/>
<circle cx="1092.5" cy="1847.1" r="8.1"/>
<circle cx="1109" cy="1843.3" r="8.1"/>
<circle cx="1124.5" cy="1850.5" r="8.1"/>
<circle cx="1143.8" cy="1846.7" r="8.1"/>
<circle cx="1164.2" cy="1850.5" r="8.1"/>
<circle cx="1179.2" cy="1851.5" r="8.1"/>
<circle cx="1197.6" cy="1855.4" r="8.1"/>
<circle cx="1212.6" cy="1857.3" r="8.1"/>
<circle cx="1227.1" cy="1849.1" r="8.1"/>
<circle cx="1246" cy="1832.6" r="8.1"/>
<circle cx="1265.4" cy="1833.1" r="8.1"/>
<circle cx="1279.9" cy="1821" r="8.1"/>
<circle cx="1299.3" cy="1830.7" r="8.1"/>
<circle cx="1314.3" cy="1843.3" r="8.1"/>
<circle cx="1328.8" cy="1856.8" r="8.1"/>
<circle cx="1347.7" cy="1854.4" r="8.1"/>
<circle cx="1362.7" cy="1849.1" r="8.1"/>
<circle cx="1382.6" cy="1839.4" r="8.1"/>
<circle cx="1401.5" cy="1832.6" r="8.1"/>
<circle cx="1416.5" cy="1834.6" r="8.1"/>
<circle cx="1432" cy="1832.1" r="8.1"/>
<circle cx="1450.8" cy="1831.6" r="8.1"/>
<circle cx="1467.3" cy="1831.2" r="8.1"/>
<circle cx="1487.7" cy="1834.1" r="8.1"/>
<circle cx="1507" cy="1841.8" r="8.1"/>
<circle cx="1522.5" cy="1845.7" r="8.1"/>
<circle cx="1538.5" cy="1849.1" r="8.1"/>
<circle cx="1559.3" cy="1852.5" r="8.1"/>
<circle cx="1576.4" cy="1851.5" r="8.1"/>
<circle cx="1603.1" cy="1857.8" r="8.1"/>
<circle cx="1620" cy="1859.2" r="8.1"/>
<circle cx="1624.8" cy="1858.8" r="8.1"/>
<circle cx="1635.5" cy="1862.6" r="8.1"/>
<circle cx="2237.9" cy="1999.2" r="8.1"/>
<circle cx="2240.8" cy="2013.7" r="8.1"/>
<circle cx="2233.6" cy="2029.2" r="8.1"/>
<circle cx="2236" cy="2060.2" r="8.1"/>
<circle cx="2232.6" cy="2090.2" r="8.1"/>
<circle cx="2235" cy="2115.4" r="8.1"/>
<circle cx="2239.4" cy="2139.6" r="8.1"/>
<circle cx="2246.6" cy="2176" r="8.1"/>
<circle cx="2251.5" cy="2200.7" r="8.1"/>
<circle cx="2251" cy="2237.5" r="8.1"/>
<circle cx="2247.1" cy="2262.2" r="8.1"/>
<circle cx="2241.8" cy="2298.5" r="8.1"/>
<circle cx="2244.7" cy="2323.2" r="8.1"/>
<circle cx="2238.9" cy="2348.4" r="8.1"/>
<circle cx="2250" cy="2384.7" r="8.1"/>
<circle cx="2243.7" cy="2409.4" r="8.1"/>
<circle cx="2238.9" cy="2445.3" r="8.1"/>
<circle cx="2236.5" cy="2470.5" r="8.1"/>
<circle cx="2233.6" cy="2506.8" r="8.1"/>
<circle cx="2231.6" cy="2531.5" r="8.1"/>
<circle cx="2233.6" cy="2556.7" r="8.1"/>
<circle cx="2220.5" cy="2586.7" r="8.1"/>
<circle cx="2224.8" cy="2617.7" r="8.1"/>
<circle cx="2223.4" cy="2647.7" r="8.1"/>
<circle cx="2224.4" cy="2660.3" r="8.1"/>
<circle cx="2217.1" cy="2675.8" r="8.1"/>
<circle cx="1592.4" cy="2794.9" r="8.1"/>
<circle cx="1601.1" cy="2795.9" r="8.1"/>
<circle cx="1613.7" cy="2784.3" r="8.1"/>
<circle cx="1006.3" cy="2814.8" r="8.1"/>
<circle cx="1029.1" cy="2817.2" r="8.1"/>
<circle cx="1045" cy="2818.6" r="8.1"/>
<circle cx="1065.4" cy="2820.6" r="8.1"/>
<circle cx="1080.9" cy="2817.7" r="8.1"/>
<circle cx="1096.9" cy="2808.5" r="8.1"/>
<circle cx="1111.9" cy="2798.8" r="8.1"/>
<circle cx="1127.4" cy="2784.7" r="8.1"/>
<circle cx="1141.9" cy="2780.4" r="8.1"/>
<circle cx="1166.6" cy="2791.5" r="8.1"/>
<circle cx="1181.6" cy="2784.3" r="8.1"/>
<circle cx="1199.5" cy="2803.6" r="8.1"/>
<circle cx="1214.5" cy="2800.7" r="8.1"/>
<circle cx="1228.6" cy="2809.9" r="8.1"/>
<circle cx="1247" cy="2822.5" r="8.1"/>
<circle cx="1265.4" cy="2815.7" r="8.1"/>
<circle cx="1280.9" cy="2810.9" r="8.1"/>
<circle cx="1299.8" cy="2812.3" r="8.1"/>
<circle cx="1314.3" cy="2813.3" r="8.1"/>
<circle cx="1328.8" cy="2815.3" r="8.1"/>
<circle cx="1347.7" cy="2813.3" r="8.1"/>
<circle cx="1367.1" cy="2809.4" r="8.1"/>
<circle cx="1382.1" cy="2807.5" r="8.1"/>
<circle cx="1400.5" cy="2804.1" r="8.1"/>
<circle cx="1415.5" cy="2806.5" r="8.1"/>
<circle cx="1430" cy="2799.3" r="8.1"/>
<circle cx="1448.9" cy="2806.5" r="8.1"/>
<circle cx="1468.8" cy="2809.9" r="8.1"/>
<circle cx="1483.8" cy="2809" r="8.1"/>
<circle cx="1504.6" cy="2813.8" r="8.1"/>
<circle cx="1520.1" cy="2811.9" r="8.1"/>
<circle cx="1535.6" cy="2808" r="8.1"/>
<circle cx="1556.9" cy="2806.1" r="8.1"/>
<circle cx="1572.4" cy="2804.6" r="8.1"/>
<circle cx="891.2" cy="2777" r="8.1"/>
<circle cx="903.8" cy="2776" r="8.1"/>
<circle cx="910.5" cy="2784.3" r="8.1"/>
<circle cx="932.3" cy="2786.2" r="8.1"/>
<circle cx="953.6" cy="2805.1" r="8.1"/>
<circle cx="970.1" cy="2815.3" r="8.1"/>
<circle cx="985.6" cy="2811.4" r="8.1"/>
</g>
<g fill="#00ff00">
<circle cx="339.1" cy="2297.5" r="8.1"/>
<circle cx="338.6" cy="2260.7" r="8.1"/>
<circle cx="342.5" cy="2235" r="8.1"/>
<circle cx="346.9" cy="2198.2" r="8.1"/>
<circle cx="352.7" cy="2166.3" r="8.1"/>
<circle cx="356.5" cy="2135.3" r="8.1"/>
<circle cx="355.6" cy="2109.6" r="8.1"/>
<circle cx="357" cy="2083.9" r="8.1"/>
<circle cx="363.8" cy="2047.6" r="8.1"/>
<circle cx="366.7" cy="2016.2" r="8.1"/>
<circle cx="385.6" cy="2002.6" r="8.1"/>
<circle cx="396.7" cy="1987.6" r="8.1"/>
<circle cx="406.4" cy="1967.7" r="8.1"/>
<circle cx="417.6" cy="1948.8" r="8.1"/>
<circle cx="429.2" cy="1951.7" r="8.1"/>
<circle cx="454.4" cy="1948.8" r="8.1"/>
<circle cx="479.5" cy="1949.8" r="8.1"/>
<circle cx="492.1" cy="1951.7" r="8.1"/>
<circle cx="510" cy="1957.6" r="8.1"/>
<circle cx="534.7" cy="1962.4" r="8.1"/>
<circle cx="563.8" cy="1955.6" r="8.1"/>
<circle cx="587.5" cy="1950.3" r="8.1"/>
<circle cx="615.1" cy="1956.1" r="8.1"/>
<circle cx="647.1" cy="1955.6" r="8.1"/>
<circle cx="669.4" cy="1957.1" r="8.1"/>
<circle cx="692.6" cy="1963.4" r="8.1"/>
<circle cx="723.6" cy="1955.6" r="8.1"/>
<circle cx="744.4" cy="1957.6" r="8.1"/>
<circle cx="770.6" cy="1961.4" r="8.1"/>
<circle cx="798.7" cy="1954.6" r="8.1"/>
<circle cx="816.6" cy="1948.4" r="8.1"/>
<circle cx="840.3" cy="1938.7" r="8.1"/>
<circle cx="859.7" cy="1941.1" r="8.1"/>
<circle cx="891.2" cy="1940.6" r="8.1"/>
<circle cx="910" cy="1944.5" r="8.1"/>
<circle cx="931.8" cy="1942.5" r="8.1"/>
<circle cx="953.6" cy="1927" r="8.1"/>
<circle cx="974.9" cy="1915.4" r="8.1"/>
<circle cx="1000" cy="1902.3" r="8.1"/>
<circle cx="1025.7" cy="1890.7" r="8.1"/>
<circle cx="1049.4" cy="1874.7" r="8.1"/>
<circle cx="1066.8" cy="1878.6" r="8.1"/>
<circle cx="1091" cy="1885.9" r="8.1"/>
<circle cx="1112.3" cy="1889.8" r="8.1"/>
<circle cx="1137" cy="1894.1" r="8.1"/>
<circle cx="1156.9" cy="1896.5" r="8.1"/>
<circle cx="1178.7" cy="1897.5" r="8.1"/>
<circle cx="1202.9" cy="1890.7" r="8.1"/>
<circle cx="1225.7" cy="1889.8" r="8.1"/>
<circle cx="1246" cy="1890.7" r="8.1"/>
<circle cx="1265.4" cy="1889.8" r="8.1"/>
<circle cx="1290.6" cy="1887.8" r="8.1"/>
<circle cx="1313.8" cy="1885.4" r="8.1"/>
<circle cx="1337.5" cy="1879.1" r="8.1"/>
<circle cx="1362.2" cy="1875.2" r="8.1"/>
<circle cx="1382.6" cy="1874.7" r="8.1"/>
<circle cx="1402.9" cy="1882" r="8.1"/>
<circle cx="1426.6" cy="1886.9" r="8.1"/>
<circle cx="1451.8" cy="1888.3" r="8.1"/>
<circle cx="1473.6" cy="1892.2" r="8.1"/>
<circle cx="1493.9" cy="1891.7" r="8.1"/>
<circle cx="1518.6" cy="1887.8" r="8.1"/>
<circle cx="1544.8" cy="1889.8" r="8.1"/>
<circle cx="1566.1" cy="1893.6" r="8.1"/>
<circle cx="1588.5" cy="1899" r="8.1"/>
<circle cx="1614.7" cy="1897.5" r="8.1"/>
<circle cx="1643.2" cy="1892.7" r="8.1"/>
<circle cx="1666.5" cy="1890.7" r="8.1"/>
<circle cx="1686.3" cy="1895.6" r="8.1"/>
<circle cx="1714.4" cy="1899.4" r="8.1"/>
<circle cx="1735.3" cy="1899.4" r="8.1"/>
<circle cx="1765.3" cy="1890.2" r="8.1"/>
<circle cx="1790" cy="1892.7" r="8.1"/>
<circle cx="1815.6" cy="1896.1" r="8.1"/>
<circle cx="1836.5" cy="1900.9" r="8.1"/>
<circle cx="1867.9" cy="1904.8" r="8.1"/>
<circle cx="1897.5" cy="1908.2" r="8.1"/>
<circle cx="1919.8" cy="1912" r="8.1"/>
<circle cx="1956.6" cy="1902.8" r="8.1"/>
<circle cx="1980.8" cy="1910.6" r="8.1"/>
<circle cx="2011.3" cy="1918.8" r="8.1"/>
<circle cx="2042.3" cy="1926.6" r="8.1"/>
<circle cx="2068.9" cy="1931.4" r="8.1"/>
<circle cx="2101.8" cy="1933.8" r="8.1"/>
<circle cx="2134.8" cy="1939.6" r="8.1"/>
<circle cx="2163.8" cy="1942.5" r="8.1"/>
<circle cx="2192.4" cy="1948.8" r="8.1"/>
<circle cx="2222.9" cy="1954.6" r="8.1"/>
<circle cx="2253.4" cy="1957.1" r="8.1"/>
<circle cx="2281" cy="1963.8" r="8.1"/>
<circle cx="2291.7" cy="1970.6" r="8.1"/>
<circle cx="2257.3" cy="1984.7" r="8.1"/>
<circle cx="2265" cy="2001.6" r="8.1"/>
<circle cx="2273.8" cy="2024.9" r="8.1"/>
<circle cx="2283" cy="2052" r="8.1"/>
<circle cx="2297.5" cy="2091.2" r="8.1"/>
<circle cx="2296.5" cy="2119.3" r="8.1"/>
<circle cx="2302.3" cy="2152.2" r="8.1"/>
<circle cx="2301.8" cy="2186.1" r="8.1"/>
<circle cx="2301.8" cy="2228.3" r="8.1"/>
<circle cx="2305.2" cy="2255.9" r="8.1"/>
<circle cx="2296.5" cy="2295.1" r="8.1"/>
<circle cx="2295.5" cy="2323.2" r="8.1"/>
<circle cx="2299.4" cy="2350.8" r="8.1"/>
<circle cx="2298.9" cy="2391" r="8.1"/>
<circle cx="2295.5" cy="2425.9" r="8.1"/>
<circle cx="2288.3" cy="2458.8" r="8.1"/>
<circle cx="2282" cy="2492.7" r="8.1"/>
<circle cx="2286.8" cy="2526.6" r="8.1"/>
<circle cx="2284.9" cy="2554.2" r="8.1"/>
<circle cx="2283.4" cy="2594.4" r="8.1"/>
<circle cx="2274.7" cy="2629.3" r="8.1"/>
<circle cx="2265.5" cy="2645.8" r="8.1"/>
<circle cx="2259.7" cy="2658.8" r="8.1"/>
<circle cx="2280.1" cy="2686" r="8.1"/>
<circle cx="2266.5" cy="2687.4" r="8.1"/>
<circle cx="2252" cy="2689.8" r="8.1"/>
<circle cx="2218.1" cy="2697.1" r="8.1"/>
<circle cx="2189.5" cy="2703.4" r="8.1"/>
<circle cx="2160" cy="2701.9" r="8.1"/>
<circle cx="2130.9" cy="2704.8" r="8.1"/>
<circle cx="2089.7" cy="2711.1" r="8.1"/>
<circle cx="2062.1" cy="2714" r="8.1"/>
<circle cx="2029.2" cy="2716" r="8.1"/>
<circle cx="2003.1" cy="2722.3" r="8.1"/>
<circle cx="1973.5" cy="2730" r="8.1"/>
<circle cx="1949.3" cy="2732" r="8.1"/>
<circle cx="1920.2" cy="2732.4" r="8.1"/>
<circle cx="1891.7" cy="2738.3" r="8.1"/>
<circle cx="1868.9" cy="2737.3" r="8.1"/>
<circle cx="1835.5" cy="2733.9" r="8.1"/>
<circle cx="1808.9" cy="2738.7" r="8.1"/>
<circle cx="1787.6" cy="2737.3" r="8.1"/>
<circle cx="1762.4" cy="2738.3" r="8.1"/>
<circle cx="1734.8" cy="2746.5" r="8.1"/>
<circle cx="1714" cy="2736.8" r="8.1"/>
<circle cx="1689.3" cy="2738.3" r="8.1"/>
<circle cx="1661.7" cy="2740.7" r="8.1"/>
<circle cx="1639.4" cy="2746.5" r="8.1"/>
<circle cx="1611.8" cy="2744.6" r="8.1"/>
<circle cx="1586.1" cy="2746.5" r="8.1"/>
<circle cx="1003.9" cy="2742.1" r="8.1"/>
<circle cx="1029.1" cy="2744.6" r="8.1"/>
<circle cx="1050.4" cy="2745" r="8.1"/>
<circle cx="1070.7" cy="2753.8" r="8.1"/>
<circle cx="1093.9" cy="2763.9" r="8.1"/>
<circle cx="1117.7" cy="2770.7" r="8.1"/>
<circle cx="1139" cy="2768.8" r="8.1"/>
<circle cx="1158.4" cy="2763" r="8.1"/>
<circle cx="1179.7" cy="2753.8" r="8.1"/>
<circle cx="1203.9" cy="2746" r="8.1"/>
<circle cx="1226.6" cy="2747.5" r="8.1"/>
<circle cx="1246" cy="2746.5" r="8.1"/>
<circle cx="1266.3" cy="2755.2" r="8.1"/>
<circle cx="1290.6" cy="2752.8" r="8.1"/>
<circle cx="1313.8" cy="2752.8" r="8.1"/>
<circle cx="1337.5" cy="2753.8" r="8.1"/>
<circle cx="1361.3" cy="2753.3" r="8.1"/>
<circle cx="1382.1" cy="2750.4" r="8.1"/>
<circle cx="1401.5" cy="2750.4" r="8.1"/>
<circle cx="1425.7" cy="2764.4" r="8.1"/>
<circle cx="1447" cy="2764.9" r="8.1"/>
<circle cx="1471.2" cy="2767.8" r="8.1"/>
<circle cx="1491.5" cy="2761" r="8.1"/>
<circle cx="1515.7" cy="2755.2" r="8.1"/>
<circle cx="1542.4" cy="2752.8" r="8.1"/>
<circle cx="1563.2" cy="2749.9" r="8.1"/>
<circle cx="339.1" cy="2323.2" r="8.1"/>
<circle cx="336.2" cy="2348.9" r="8.1"/>
<circle cx="339.1" cy="2386.2" r="8.1"/>
<circle cx="342" cy="2411.9" r="8.1"/>
<circle cx="344.4" cy="2449.6" r="8.1"/>
<circle cx="348.8" cy="2480.6" r="8.1"/>
<circle cx="351.2" cy="2511.6" r="8.1"/>
<circle cx="361.4" cy="2536.8" r="8.1"/>
<circle cx="368.6" cy="2567.3" r="8.1"/>
<circle cx="375.4" cy="2604.6" r="8.1"/>
<circle cx="379.3" cy="2629.8" r="8.1"/>
<circle cx="393.8" cy="2658.8" r="8.1"/>
<circle cx="405.9" cy="2673.4" r="8.1"/>
<circle cx="414.6" cy="2672.9" r="8.1"/>
<circle cx="405" cy="2688.9" r="8.1"/>
<circle cx="425.3" cy="2682.6" r="8.1"/>
<circle cx="435" cy="2682.6" r="8.1"/>
<circle cx="458.2" cy="2687.4" r="8.1"/>
<circle cx="482.4" cy="2685.5" r="8.1"/>
<circle cx="505.7" cy="2685.5" r="8.1"/>
<circle cx="528.5" cy="2685.5" r="8.1"/>
<circle cx="550.7" cy="2686" r="8.1"/>
<circle cx="574.5" cy="2683.5" r="8.1"/>
<circle cx="597.7" cy="2685.5" r="8.1"/>
<circle cx="621.4" cy="2689.3" r="8.1"/>
<circle cx="645.6" cy="2688.9" r="8.1"/>
<circle cx="673.7" cy="2693.7" r="8.1"/>
<circle cx="701.3" cy="2703.4" r="8.1"/>
<circle cx="729.4" cy="2708.7" r="8.1"/>
<circle cx="756.1" cy="2706.8" r="8.1"/>
<circle cx="782.7" cy="2701" r="8.1"/>
<circle cx="803.5" cy="2705.8" r="8.1"/>
<circle cx="827.2" cy="2712.6" r="8.1"/>
<circle cx="847.1" cy="2713.1" r="8.1"/>
<circle cx="866" cy="2713.1" r="8.1"/>
<circle cx="892.6" cy="2714.5" r="8.1"/>
<circle cx="914.9" cy="2715.5" r="8.1"/>
<circle cx="940.1" cy="2719.9" r="8.1"/>
<circle cx="960.9" cy="2727.6" r="8.1"/>
<circle cx="978.3" cy="2734.9" r="8.1"/>
</g>
<g fill="#ff00ff">
<circle cx="800.1" cy="2092.7" r="8.1"/>
<circle cx="813.2" cy="2082.5" r="8.1"/>
<circle cx="826.3" cy="2073.3" r="8.1"/>
<circle cx="856.3" cy="2078.6" r="8.1"/>
<circle cx="879.1" cy="2078.1" r="8.1"/>
<circle cx="908.1" cy="2083" r="8.1"/>
<circle cx="936.2" cy="2076.7" r="8.1"/>
<circle cx="962.3" cy="2066.5" r="8.1"/>
<circle cx="984.6" cy="2056.3" r="8.1"/>
<circle cx="1011.1" cy="2045.7" r="8.1"/>
<circle cx="1042.1" cy="2034.6" r="8.1"/>
<circle cx="1064.9" cy="2028.3" r="8.1"/>
<circle cx="1091" cy="2031.6" r="8.1"/>
<circle cx="1124" cy="2037.9" r="8.1"/>
<circle cx="1151.1" cy="2037" r="8.1"/>
<circle cx="1172.9" cy="2040.8" r="8.1"/>
<circle cx="1204.8" cy="2035.5" r="8.1"/>
<circle cx="1230.5" cy="2035.5" r="8.1"/>
<circle cx="1260.5" cy="2033.6" r="8.1"/>
<circle cx="1287.7" cy="2027.8" r="8.1"/>
<circle cx="1313.8" cy="2025.4" r="8.1"/>
<circle cx="1340.4" cy="2020.5" r="8.1"/>
<circle cx="1368.5" cy="2019.5" r="8.1"/>
<circle cx="1398.1" cy="2031.2" r="8.1"/>
<circle cx="1425.2" cy="2034.6" r="8.1"/>
<circle cx="1456.7" cy="2035" r="8.1"/>
<circle cx="1479.4" cy="2031.2" r="8.1"/>
<circle cx="1507.5" cy="2035.5" r="8.1"/>
<circle cx="1540.4" cy="2037" r="8.1"/>
<circle cx="1564.2" cy="2039.9" r="8.1"/>
<circle cx="1592.4" cy="2045.7" r="8.1"/>
<circle cx="1627.3" cy="2041.8" r="8.1"/>
<circle cx="1652.9" cy="2029.7" r="8.1"/>
<circle cx="1683" cy="2035" r="8.1"/>
<circle cx="1719.8" cy="2039.9" r="8.1"/>
<circle cx="1746.9" cy="2040.4" r="8.1"/>
<circle cx="1770.6" cy="2031.6" r="8.1"/>
<circle cx="1803.1" cy="2036.5" r="8.1"/>
<circle cx="1836" cy="2041.8" r="8.1"/>
<circle cx="1863.6" cy="2050.5" r="8.1"/>
<circle cx="1892.6" cy="2048.1" r="8.1"/>
<circle cx="1930.4" cy="2046.2" r="8.1"/>
<circle cx="1956.6" cy="2042.3" r="8.1"/>
<circle cx="1993.4" cy="2056.3" r="8.1"/>
<circle cx="2024.8" cy="2058.3" r="8.1"/>
<circle cx="2055.4" cy="2071.4" r="8.1"/>
<circle cx="2082" cy="2070.9" r="8.1"/>
<circle cx="2116.4" cy="2072.8" r="8.1"/>
<circle cx="2151.7" cy="2074.7" r="8.1"/>
<circle cx="2165.8" cy="2074.3" r="8.1"/>
<circle cx="2187.1" cy="2098.5" r="8.1"/>
<circle cx="2185.6" cy="2115.9" r="8.1"/>
<circle cx="2185.6" cy="2139.6" r="8.1"/>
<circle cx="2187.6" cy="2169.2" r="8.1"/>
<circle cx="2185.1" cy="2210.3" r="8.1"/>
<circle cx="2195.3" cy="2253" r="8.1"/>
<circle cx="2192.4" cy="2287.8" r="8.1"/>
<circle cx="2194.8" cy="2323.2" r="8.1"/>
<circle cx="2192.9" cy="2358.6" r="8.1"/>
<circle cx="2192.9" cy="2393.5" r="8.1"/>
<circle cx="2186.1" cy="2436.1" r="8.1"/>
<circle cx="2175" cy="2476.8" r="8.1"/>
<circle cx="2178.4" cy="2505.8" r="8.1"/>
<circle cx="2176.9" cy="2547" r="8.1"/>
<circle cx="2182.2" cy="2565.4" r="8.1"/>
<circle cx="2180.3" cy="2579.9" r="8.1"/>
<circle cx="2170.6" cy="2571.2" r="8.1"/>
<circle cx="2160" cy="2569.2" r="8.1"/>
<circle cx="2146.4" cy="2568.8" r="8.1"/>
<circle cx="2111" cy="2573.6" r="8.1"/>
<circle cx="2082.5" cy="2572.6" r="8.1"/>
<circle cx="2050" cy="2573.6" r="8.1"/>
<circle cx="2018.6" cy="2585.2" r="8.1"/>
<circle cx="1992.9" cy="2586.7" r="8.1"/>
<circle cx="1956.6" cy="2592.5" r="8.1"/>
<circle cx="1924.6" cy="2596.9" r="8.1"/>
<circle cx="1888.3" cy="2599.8" r="8.1"/>
<circle cx="1858.7" cy="2600.2" r="8.1"/>
<circle cx="1830.7" cy="2594.4" r="8.1"/>
<circle cx="1797.2" cy="2594.9" r="8.1"/>
<circle cx="1770.1" cy="2597.3" r="8.1"/>
<circle cx="1743.5" cy="2601.7" r="8.1"/>
<circle cx="1715.4" cy="2593" r="8.1"/>
<circle cx="1679.1" cy="2602.7" r="8.1"/>
<circle cx="1648.6" cy="2598.8" r="8.1"/>
<circle cx="1624.4" cy="2601.2" r="8.1"/>
<circle cx="1590" cy="2599.3" r="8.1"/>
<circle cx="1014.5" cy="2599.3" r="8.1"/>
<circle cx="1045.5" cy="2599.8" r="8.1"/>
<circle cx="1071.2" cy="2610.9" r="8.1"/>
<circle cx="1093" cy="2623.5" r="8.1"/>
<circle cx="1124.5" cy="2630.8" r="8.1"/>
<circle cx="1151.1" cy="2622.5" r="8.1"/>
<circle cx="1173.4" cy="2613.8" r="8.1"/>
<circle cx="1205.8" cy="2603.6" r="8.1"/>
<circle cx="1231.5" cy="2602.7" r="8.1"/>
<circle cx="1260.5" cy="2610.4" r="8.1"/>
<circle cx="1287.7" cy="2606.5" r="8.1"/>
<circle cx="1313.8" cy="2609.9" r="8.1"/>
<circle cx="1340.4" cy="2609" r="8.1"/>
<circle cx="1367.6" cy="2605.6" r="8.1"/>
<circle cx="1397.1" cy="2599.3" r="8.1"/>
<circle cx="1424.2" cy="2612.3" r="8.1"/>
<circle cx="1456.2" cy="2614.8" r="8.1"/>
<circle cx="1478.5" cy="2610.9" r="8.1"/>
<circle cx="1506.5" cy="2608.5" r="8.1"/>
<circle cx="1539" cy="2600.2" r="8.1"/>
<circle cx="1561.7" cy="2598.8" r="8.1"/>
<circle cx="804.5" cy="2551.8" r="8.1"/>
<circle cx="814.6" cy="2560.5" r="8.1"/>
<circle cx="830.1" cy="2565.4" r="8.1"/>
<circle cx="855.3" cy="2572.6" r="8.1"/>
<circle cx="883.4" cy="2570.2" r="8.1"/>
<circle cx="910.5" cy="2577" r="8.1"/>
<circle cx="937.7" cy="2578.5" r="8.1"/>
<circle cx="964.8" cy="2585.2" r="8.1"/>
<circle cx="991.4" cy="2590.6" r="8.1"/>
</g>
<g font-family="'Liberation Serif', 'DejaVu Serif', serif">
<text transform="translate(286.52 849.52) scale(1.0528 1)" font-size="58.80" font-weight="bold" fill="#262626">0</text>
<text transform="translate(245.36 724.82) scale(0.9947 1)" font-size="58.80" font-weight="bold" fill="#262626">0.4</text>
<text transform="translate(245.36 600.12) scale(0.9959 1)" font-size="58.80" font-weight="bold" fill="#262626">0.8</text>
<text transform="translate(242.64 474.71) scale(1.0550 1)" font-size="58.80" font-weight="bold" fill="#262626">1.2</text>
<text transform="translate(242.72 349.71) scale(1.0383 1)" font-size="58.80" font-weight="bold" fill="#262626">1.6</text>
<text transform="translate(337.16 970.35) scale(1.0300 1)" font-size="58.80" font-weight="bold" fill="#262626">2</text>
<text transform="translate(593.63 1112.73) scale(1.2051 1)" font-size="58.80" font-weight="bold" fill="#262626">1</text>
<text transform="translate(858.16 1253.95) scale(1.0300 1)" font-size="58.80" font-weight="bold" fill="#262626">0</text>
<text transform="translate(1099.28 1396.33) scale(1.0300 1)" font-size="58.80" font-weight="bold" fill="#262626">-1</text>
<text transform="translate(1359.17 1537.55) scale(1.0300 1)" font-size="58.80" font-weight="bold" fill="#262626">-2</text>
<text transform="translate(1611.96 1571.96) scale(1.1536 1)" font-size="58.80" font-weight="bold" fill="#262626">1</text>
<text transform="translate(1747.49 1501.40) scale(1.0300 1)" font-size="58.80" font-weight="bold" fill="#262626">0.5</text>
<text transform="translate(1880.02 1431.42) scale(1.0300 1)" font-size="58.80" font-weight="bold" fill="#262626">0</text>
<text transform="translate(2012.54 1361.45) scale(1.0300 1)" font-size="58.80" font-weight="bold" fill="#262626">-0.5</text>
<text transform="translate(2145.07 1292.06) scale(1.0300 1)" font-size="58.80" font-weight="bold" fill="#262626">-1</text>
<text transform="translate(186.00 673.63) rotate(-90) scale(1.0321 1)" font-size="64.50" font-weight="bold" fill="#262626">z (m)</text>
<text transform="translate(950.80 1517.00) scale(0.9937 1)" font-size="65.00" font-weight="bold" fill="#262626">x (m)</text>
<text transform="translate(1886.53 1599.00) scale(1.0011 1)" font-size="66.50" font-weight="bold" fill="#262626">y (m)</text>
<text transform="translate(1129.50 1742.00) scale(0.9659 1)" font-size="88.00" font-weight="normal" fill="#000000">(<tspan font-weight="bold">b</tspan>)</text>
<text transform="translate(208.99 1874.48) scale(1.1200 1)" font-size="65.50" font-weight="bold" fill="#262626">1</text>
<text transform="translate(162.75 2100.15) scale(1.0000 1)" font-size="65.50" font-weight="bold" fill="#262626">0.5</text>
<text transform="translate(211.87 2326.47) scale(1.0000 1)" font-size="65.50" font-weight="bold" fill="#262626">0</text>
<text transform="translate(140.47 2552.80) scale(1.0000 1)" font-size="65.50" font-weight="bold" fill="#262626">-0.5</text>
<text transform="translate(190.91 2779.78) scale(1.0000 1)" font-size="65.50" font-weight="bold" fill="#262626">-1</text>
<text transform="translate(389.82 2903.57) scale(1.0000 1)" font-size="65.50" font-weight="bold" fill="#262626">-2</text>
<text transform="translate(843.19 2904.23) scale(1.0000 1)" font-size="65.50" font-weight="bold" fill="#262626">-1</text>
<text transform="translate(1306.72 2903.57) scale(1.0000 1)" font-size="65.50" font-weight="bold" fill="#262626">0</text>
<text transform="translate(1756.71 2904.23) scale(1.1200 1)" font-size="65.50" font-weight="bold" fill="#262626">1</text>
<text transform="translate(2212.82 2903.57) scale(1.0000 1)" font-size="65.50" font-weight="bold" fill="#262626">2</text>
<text transform="translate(87.00 2405.32) rotate(-90) scale(1.0001 1)" font-size="72.00" font-weight="bold" fill="#262626">y (m)</text>
<text transform="translate(1212.70 3004.00) scale(0.9878 1)" font-size="71.00" font-weight="bold" fill="#262626">x (m)</text>
<text transform="translate(1136.67 3159.00) scale(0.9232 1)" font-size="87.50" font-weight="normal" fill="#000000">(<tspan font-weight="bold">c</tspan>)</text>
</g>
</svg>
</body></html>
